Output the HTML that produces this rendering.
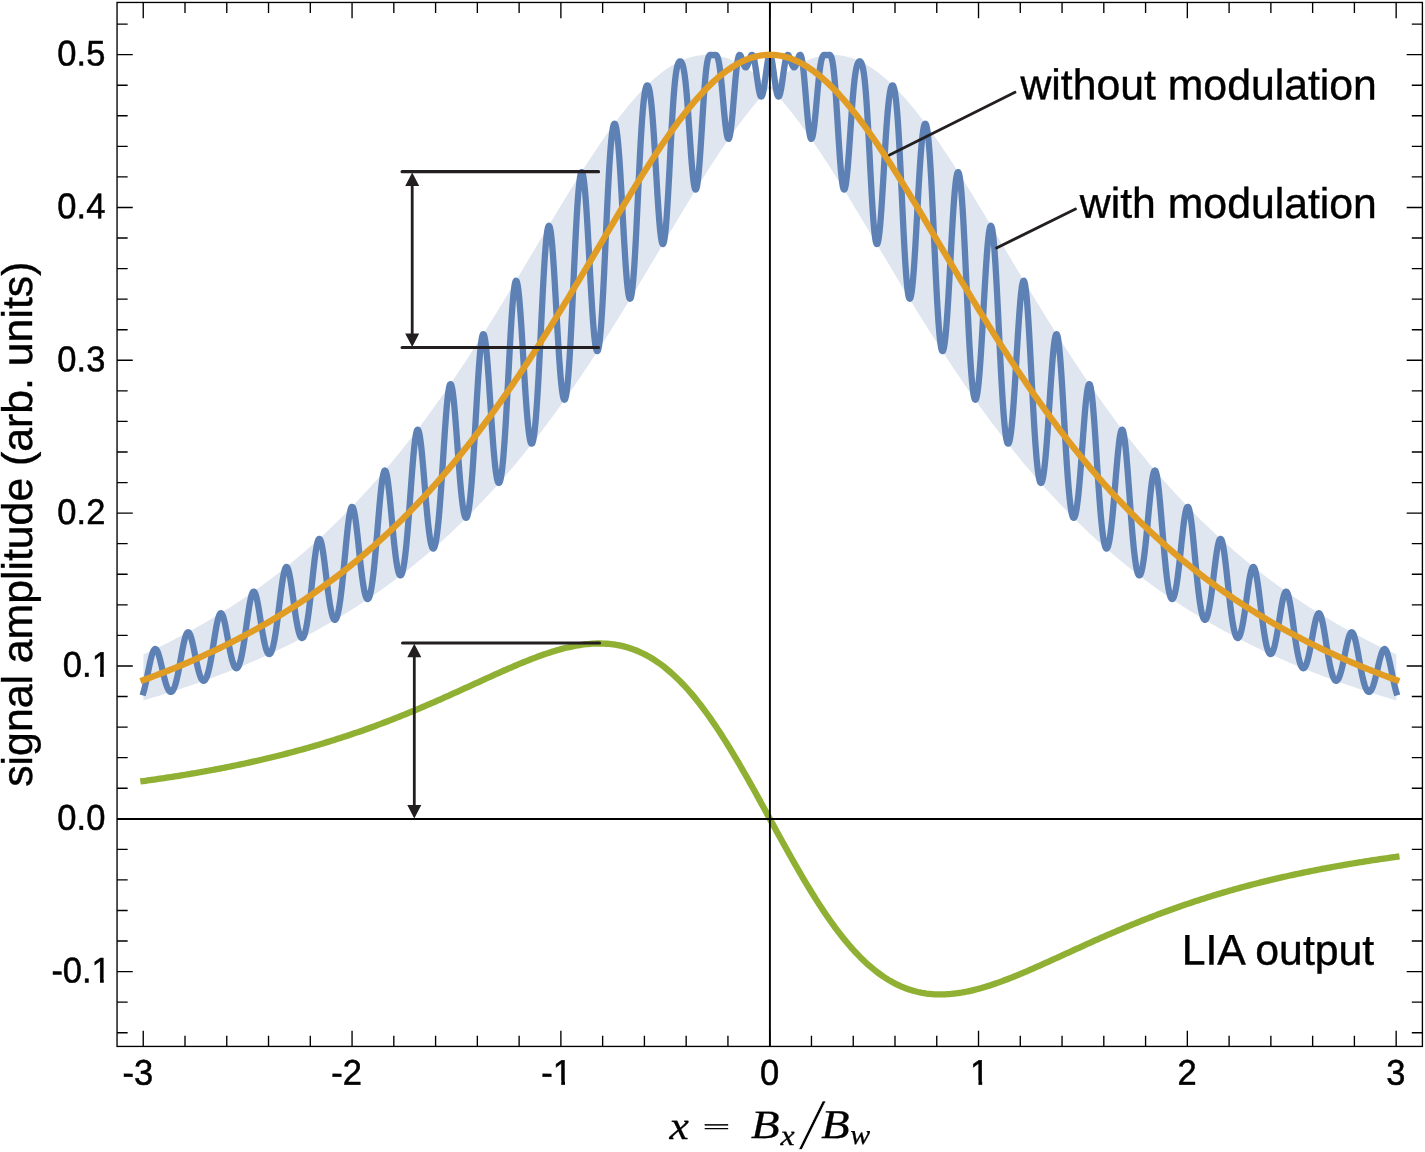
<!DOCTYPE html>
<html><head><meta charset="utf-8"><title>Lock-in amplifier signal</title>
<style>
html,body{margin:0;padding:0;background:#fff;}
svg{display:block;}
text{font-family:"Liberation Sans",sans-serif;fill:#000;text-rendering:geometricPrecision;}
.m{font-family:"Liberation Serif","DejaVu Serif",serif;font-style:italic;}
.r{font-family:"Liberation Serif","DejaVu Serif",serif;}
</style></head><body>
<svg width="1425" height="1152" viewBox="0 0 1425 1152">
<rect width="1425" height="1152" fill="#fff"/>
<path d="M143.44,654.44 L145.53,653.48 L147.62,652.51 L149.70,651.54 L151.79,650.55 L153.88,649.56 L155.97,648.56 L158.06,647.56 L160.15,646.54 L162.23,645.52 L164.32,644.49 L166.41,643.45 L168.50,642.40 L170.59,641.34 L172.67,640.28 L174.76,639.20 L176.85,638.12 L178.94,637.03 L181.03,635.93 L183.12,634.82 L185.20,633.70 L187.29,632.57 L189.38,631.44 L191.47,630.29 L193.56,629.14 L195.64,627.97 L197.73,626.80 L199.82,625.61 L201.91,624.42 L204.00,623.22 L206.09,622.00 L208.17,620.78 L210.26,619.55 L212.35,618.30 L214.44,617.05 L216.53,615.79 L218.62,614.51 L220.70,613.23 L222.79,611.93 L224.88,610.62 L226.97,609.31 L229.06,607.98 L231.14,606.64 L233.23,605.29 L235.32,603.93 L237.41,602.55 L239.50,601.17 L241.59,599.77 L243.67,598.37 L245.76,596.95 L247.85,595.51 L249.94,594.07 L252.03,592.62 L254.11,591.15 L256.20,589.67 L258.29,588.18 L260.38,586.67 L262.47,585.15 L264.56,583.62 L266.64,582.08 L268.73,580.53 L270.82,578.96 L272.91,577.38 L275.00,575.78 L277.08,574.17 L279.17,572.55 L281.26,570.91 L283.35,569.26 L285.44,567.60 L287.53,565.92 L289.61,564.23 L291.70,562.53 L293.79,560.81 L295.88,559.07 L297.97,557.33 L300.06,555.56 L302.14,553.79 L304.23,551.99 L306.32,550.19 L308.41,548.36 L310.50,546.53 L312.58,544.67 L314.67,542.80 L316.76,540.92 L318.85,539.02 L320.94,537.11 L323.03,535.17 L325.11,533.23 L327.20,531.26 L329.29,529.29 L331.38,527.29 L333.47,525.28 L335.55,523.25 L337.64,521.20 L339.73,519.14 L341.82,517.06 L343.91,514.97 L346.00,512.86 L348.08,510.73 L350.17,508.58 L352.26,506.41 L354.35,504.23 L356.44,502.03 L358.52,499.82 L360.61,497.58 L362.70,495.33 L364.79,493.06 L366.88,490.77 L368.97,488.46 L371.05,486.14 L373.14,483.80 L375.23,481.44 L377.32,479.06 L379.41,476.66 L381.49,474.24 L383.58,471.81 L385.67,469.35 L387.76,466.88 L389.85,464.39 L391.94,461.88 L394.02,459.35 L396.11,456.80 L398.20,454.24 L400.29,451.65 L402.38,449.04 L404.46,446.42 L406.55,443.78 L408.64,441.12 L410.73,438.44 L412.82,435.73 L414.91,433.02 L416.99,430.28 L419.08,427.52 L421.17,424.74 L423.26,421.95 L425.35,419.13 L427.44,416.30 L429.52,413.45 L431.61,410.58 L433.70,407.69 L435.79,404.78 L437.88,401.85 L439.96,398.90 L442.05,395.94 L444.14,392.95 L446.23,389.95 L448.32,386.93 L450.41,383.90 L452.49,380.84 L454.58,377.77 L456.67,374.68 L458.76,371.57 L460.85,368.44 L462.93,365.30 L465.02,362.14 L467.11,358.97 L469.20,355.77 L471.29,352.56 L473.38,349.34 L475.46,346.10 L477.55,342.84 L479.64,339.57 L481.73,336.29 L483.82,332.99 L485.90,329.67 L487.99,326.35 L490.08,323.01 L492.17,319.65 L494.26,316.29 L496.35,312.91 L498.43,309.52 L500.52,306.11 L502.61,302.70 L504.70,299.28 L506.79,295.85 L508.88,292.40 L510.96,288.95 L513.05,285.49 L515.14,282.03 L517.23,278.55 L519.32,275.07 L521.40,271.58 L523.49,268.09 L525.58,264.60 L527.67,261.09 L529.76,257.59 L531.85,254.08 L533.93,250.58 L536.02,247.07 L538.11,243.56 L540.20,240.05 L542.29,236.54 L544.37,233.04 L546.46,229.53 L548.55,226.03 L550.64,222.54 L552.73,219.05 L554.82,215.57 L556.90,212.10 L558.99,208.63 L561.08,205.17 L563.17,201.73 L565.26,198.30 L567.34,194.87 L569.43,191.47 L571.52,188.07 L573.61,184.70 L575.70,181.33 L577.79,177.99 L579.87,174.67 L581.96,171.37 L584.05,168.08 L586.14,164.82 L588.23,161.59 L590.31,158.38 L592.40,155.19 L594.49,152.04 L596.58,148.91 L598.67,145.81 L600.76,142.74 L602.84,139.71 L604.93,136.70 L607.02,133.74 L609.11,130.81 L611.20,127.91 L613.28,125.06 L615.37,122.24 L617.46,119.47 L619.55,116.74 L621.64,114.05 L623.73,111.40 L625.81,108.81 L627.90,106.26 L629.99,103.76 L632.08,101.30 L634.17,98.90 L636.26,96.55 L638.34,94.26 L640.43,92.02 L642.52,89.83 L644.61,87.71 L646.70,85.64 L648.78,83.62 L650.87,81.67 L652.96,79.78 L655.05,77.96 L657.14,76.19 L659.23,74.49 L661.31,72.86 L663.40,71.29 L665.49,69.78 L667.58,68.35 L669.67,66.98 L671.75,65.68 L673.84,64.46 L675.93,63.30 L678.02,62.22 L680.11,61.20 L682.20,60.26 L684.28,59.40 L686.37,58.60 L688.46,57.88 L690.55,57.24 L692.64,56.67 L694.72,56.17 L696.81,55.75 L698.90,55.41 L700.99,55.14 L703.08,54.95 L705.17,54.84 L707.25,54.80 L709.34,54.84 L711.43,54.95 L713.52,55.14 L715.61,55.41 L717.69,55.75 L719.78,56.17 L721.87,56.67 L723.96,57.24 L726.05,57.88 L728.14,58.60 L730.22,59.40 L732.31,60.26 L734.40,61.20 L736.49,62.22 L738.58,63.30 L740.67,64.46 L742.75,65.68 L744.84,66.98 L746.93,68.35 L749.02,69.78 L751.11,71.29 L753.19,72.86 L755.28,74.49 L757.37,76.19 L759.46,77.96 L761.55,79.78 L763.64,81.67 L765.72,83.62 L767.81,85.64 L769.90,87.71 L771.99,85.64 L774.08,83.62 L776.16,81.67 L778.25,79.78 L780.34,77.96 L782.43,76.19 L784.52,74.49 L786.61,72.86 L788.69,71.29 L790.78,69.78 L792.87,68.35 L794.96,66.98 L797.05,65.68 L799.13,64.46 L801.22,63.30 L803.31,62.22 L805.40,61.20 L807.49,60.26 L809.58,59.40 L811.66,58.60 L813.75,57.88 L815.84,57.24 L817.93,56.67 L820.02,56.17 L822.11,55.75 L824.19,55.41 L826.28,55.14 L828.37,54.95 L830.46,54.84 L832.55,54.80 L834.63,54.84 L836.72,54.95 L838.81,55.14 L840.90,55.41 L842.99,55.75 L845.08,56.17 L847.16,56.67 L849.25,57.24 L851.34,57.88 L853.43,58.60 L855.52,59.40 L857.60,60.26 L859.69,61.20 L861.78,62.22 L863.87,63.30 L865.96,64.46 L868.05,65.68 L870.13,66.98 L872.22,68.35 L874.31,69.78 L876.40,71.29 L878.49,72.86 L880.57,74.49 L882.66,76.19 L884.75,77.96 L886.84,79.78 L888.93,81.67 L891.02,83.62 L893.10,85.64 L895.19,87.71 L897.28,89.83 L899.37,92.02 L901.46,94.26 L903.54,96.55 L905.63,98.90 L907.72,101.30 L909.81,103.76 L911.90,106.26 L913.99,108.81 L916.07,111.40 L918.16,114.05 L920.25,116.74 L922.34,119.47 L924.43,122.24 L926.51,125.06 L928.60,127.91 L930.69,130.81 L932.78,133.74 L934.87,136.70 L936.96,139.71 L939.04,142.74 L941.13,145.81 L943.22,148.91 L945.31,152.04 L947.40,155.19 L949.49,158.38 L951.57,161.59 L953.66,164.82 L955.75,168.08 L957.84,171.37 L959.93,174.67 L962.01,177.99 L964.10,181.33 L966.19,184.70 L968.28,188.07 L970.37,191.47 L972.46,194.87 L974.54,198.30 L976.63,201.73 L978.72,205.17 L980.81,208.63 L982.90,212.10 L984.98,215.57 L987.07,219.05 L989.16,222.54 L991.25,226.03 L993.34,229.53 L995.43,233.04 L997.51,236.54 L999.60,240.05 L1001.69,243.56 L1003.78,247.07 L1005.87,250.58 L1007.95,254.08 L1010.04,257.59 L1012.13,261.09 L1014.22,264.60 L1016.31,268.09 L1018.40,271.58 L1020.48,275.07 L1022.57,278.55 L1024.66,282.03 L1026.75,285.49 L1028.84,288.95 L1030.92,292.40 L1033.01,295.85 L1035.10,299.28 L1037.19,302.70 L1039.28,306.11 L1041.37,309.52 L1043.45,312.91 L1045.54,316.29 L1047.63,319.65 L1049.72,323.01 L1051.81,326.35 L1053.90,329.67 L1055.98,332.99 L1058.07,336.29 L1060.16,339.57 L1062.25,342.84 L1064.34,346.10 L1066.42,349.34 L1068.51,352.56 L1070.60,355.77 L1072.69,358.97 L1074.78,362.14 L1076.87,365.30 L1078.95,368.44 L1081.04,371.57 L1083.13,374.68 L1085.22,377.77 L1087.31,380.84 L1089.39,383.90 L1091.48,386.93 L1093.57,389.95 L1095.66,392.95 L1097.75,395.94 L1099.84,398.90 L1101.92,401.85 L1104.01,404.78 L1106.10,407.69 L1108.19,410.58 L1110.28,413.45 L1112.36,416.30 L1114.45,419.13 L1116.54,421.95 L1118.63,424.74 L1120.72,427.52 L1122.81,430.28 L1124.89,433.02 L1126.98,435.73 L1129.07,438.44 L1131.16,441.12 L1133.25,443.78 L1135.34,446.42 L1137.42,449.04 L1139.51,451.65 L1141.60,454.24 L1143.69,456.80 L1145.78,459.35 L1147.86,461.88 L1149.95,464.39 L1152.04,466.88 L1154.13,469.35 L1156.22,471.81 L1158.31,474.24 L1160.39,476.66 L1162.48,479.06 L1164.57,481.44 L1166.66,483.80 L1168.75,486.14 L1170.83,488.46 L1172.92,490.77 L1175.01,493.06 L1177.10,495.33 L1179.19,497.58 L1181.28,499.82 L1183.36,502.03 L1185.45,504.23 L1187.54,506.41 L1189.63,508.58 L1191.72,510.73 L1193.80,512.86 L1195.89,514.97 L1197.98,517.06 L1200.07,519.14 L1202.16,521.20 L1204.25,523.25 L1206.33,525.28 L1208.42,527.29 L1210.51,529.29 L1212.60,531.26 L1214.69,533.23 L1216.77,535.17 L1218.86,537.11 L1220.95,539.02 L1223.04,540.92 L1225.13,542.80 L1227.22,544.67 L1229.30,546.53 L1231.39,548.36 L1233.48,550.19 L1235.57,551.99 L1237.66,553.79 L1239.74,555.56 L1241.83,557.33 L1243.92,559.07 L1246.01,560.81 L1248.10,562.53 L1250.19,564.23 L1252.27,565.92 L1254.36,567.60 L1256.45,569.26 L1258.54,570.91 L1260.63,572.55 L1262.72,574.17 L1264.80,575.78 L1266.89,577.38 L1268.98,578.96 L1271.07,580.53 L1273.16,582.08 L1275.24,583.62 L1277.33,585.15 L1279.42,586.67 L1281.51,588.18 L1283.60,589.67 L1285.69,591.15 L1287.77,592.62 L1289.86,594.07 L1291.95,595.51 L1294.04,596.95 L1296.13,598.37 L1298.21,599.77 L1300.30,601.17 L1302.39,602.55 L1304.48,603.93 L1306.57,605.29 L1308.66,606.64 L1310.74,607.98 L1312.83,609.31 L1314.92,610.62 L1317.01,611.93 L1319.10,613.23 L1321.18,614.51 L1323.27,615.79 L1325.36,617.05 L1327.45,618.30 L1329.54,619.55 L1331.63,620.78 L1333.71,622.00 L1335.80,623.22 L1337.89,624.42 L1339.98,625.61 L1342.07,626.80 L1344.15,627.97 L1346.24,629.14 L1348.33,630.29 L1350.42,631.44 L1352.51,632.57 L1354.60,633.70 L1356.68,634.82 L1358.77,635.93 L1360.86,637.03 L1362.95,638.12 L1365.04,639.20 L1367.13,640.28 L1369.21,641.34 L1371.30,642.40 L1373.39,643.45 L1375.48,644.49 L1377.57,645.52 L1379.65,646.54 L1381.74,647.56 L1383.83,648.56 L1385.92,649.56 L1388.01,650.55 L1390.10,651.54 L1392.18,652.51 L1394.27,653.48 L1396.36,654.44 L1396.36,700.39 L1394.27,699.78 L1392.18,699.16 L1390.10,698.54 L1388.01,697.92 L1385.92,697.29 L1383.83,696.66 L1381.74,696.03 L1379.65,695.39 L1377.57,694.74 L1375.48,694.09 L1373.39,693.43 L1371.30,692.77 L1369.21,692.11 L1367.13,691.44 L1365.04,690.76 L1362.95,690.08 L1360.86,689.40 L1358.77,688.71 L1356.68,688.01 L1354.60,687.31 L1352.51,686.61 L1350.42,685.90 L1348.33,685.18 L1346.24,684.46 L1344.15,683.73 L1342.07,683.00 L1339.98,682.26 L1337.89,681.52 L1335.80,680.77 L1333.71,680.01 L1331.63,679.25 L1329.54,678.49 L1327.45,677.71 L1325.36,676.94 L1323.27,676.15 L1321.18,675.36 L1319.10,674.57 L1317.01,673.76 L1314.92,672.95 L1312.83,672.14 L1310.74,671.32 L1308.66,670.49 L1306.57,669.66 L1304.48,668.82 L1302.39,667.97 L1300.30,667.12 L1298.21,666.26 L1296.13,665.39 L1294.04,664.52 L1291.95,663.63 L1289.86,662.75 L1287.77,661.85 L1285.69,660.95 L1283.60,660.04 L1281.51,659.13 L1279.42,658.20 L1277.33,657.27 L1275.24,656.34 L1273.16,655.39 L1271.07,654.44 L1268.98,653.48 L1266.89,652.51 L1264.80,651.54 L1262.72,650.55 L1260.63,649.56 L1258.54,648.56 L1256.45,647.56 L1254.36,646.54 L1252.27,645.52 L1250.19,644.49 L1248.10,643.45 L1246.01,642.40 L1243.92,641.34 L1241.83,640.28 L1239.74,639.20 L1237.66,638.12 L1235.57,637.03 L1233.48,635.93 L1231.39,634.82 L1229.30,633.70 L1227.22,632.57 L1225.13,631.44 L1223.04,630.29 L1220.95,629.14 L1218.86,627.97 L1216.77,626.80 L1214.69,625.61 L1212.60,624.42 L1210.51,623.22 L1208.42,622.00 L1206.33,620.78 L1204.25,619.55 L1202.16,618.30 L1200.07,617.05 L1197.98,615.79 L1195.89,614.51 L1193.80,613.23 L1191.72,611.93 L1189.63,610.62 L1187.54,609.31 L1185.45,607.98 L1183.36,606.64 L1181.28,605.29 L1179.19,603.93 L1177.10,602.55 L1175.01,601.17 L1172.92,599.77 L1170.83,598.37 L1168.75,596.95 L1166.66,595.51 L1164.57,594.07 L1162.48,592.62 L1160.39,591.15 L1158.31,589.67 L1156.22,588.18 L1154.13,586.67 L1152.04,585.15 L1149.95,583.62 L1147.86,582.08 L1145.78,580.53 L1143.69,578.96 L1141.60,577.38 L1139.51,575.78 L1137.42,574.17 L1135.34,572.55 L1133.25,570.91 L1131.16,569.26 L1129.07,567.60 L1126.98,565.92 L1124.89,564.23 L1122.81,562.53 L1120.72,560.81 L1118.63,559.07 L1116.54,557.33 L1114.45,555.56 L1112.36,553.79 L1110.28,551.99 L1108.19,550.19 L1106.10,548.36 L1104.01,546.53 L1101.92,544.67 L1099.84,542.80 L1097.75,540.92 L1095.66,539.02 L1093.57,537.11 L1091.48,535.17 L1089.39,533.23 L1087.31,531.26 L1085.22,529.29 L1083.13,527.29 L1081.04,525.28 L1078.95,523.25 L1076.87,521.20 L1074.78,519.14 L1072.69,517.06 L1070.60,514.97 L1068.51,512.86 L1066.42,510.73 L1064.34,508.58 L1062.25,506.41 L1060.16,504.23 L1058.07,502.03 L1055.98,499.82 L1053.90,497.58 L1051.81,495.33 L1049.72,493.06 L1047.63,490.77 L1045.54,488.46 L1043.45,486.14 L1041.37,483.80 L1039.28,481.44 L1037.19,479.06 L1035.10,476.66 L1033.01,474.24 L1030.92,471.81 L1028.84,469.35 L1026.75,466.88 L1024.66,464.39 L1022.57,461.88 L1020.48,459.35 L1018.40,456.80 L1016.31,454.24 L1014.22,451.65 L1012.13,449.04 L1010.04,446.42 L1007.95,443.78 L1005.87,441.12 L1003.78,438.44 L1001.69,435.73 L999.60,433.02 L997.51,430.28 L995.43,427.52 L993.34,424.74 L991.25,421.95 L989.16,419.13 L987.07,416.30 L984.98,413.45 L982.90,410.58 L980.81,407.69 L978.72,404.78 L976.63,401.85 L974.54,398.90 L972.46,395.94 L970.37,392.95 L968.28,389.95 L966.19,386.93 L964.10,383.90 L962.01,380.84 L959.93,377.77 L957.84,374.68 L955.75,371.57 L953.66,368.44 L951.57,365.30 L949.49,362.14 L947.40,358.97 L945.31,355.77 L943.22,352.56 L941.13,349.34 L939.04,346.10 L936.96,342.84 L934.87,339.57 L932.78,336.29 L930.69,332.99 L928.60,329.67 L926.51,326.35 L924.43,323.01 L922.34,319.65 L920.25,316.29 L918.16,312.91 L916.07,309.52 L913.99,306.11 L911.90,302.70 L909.81,299.28 L907.72,295.85 L905.63,292.40 L903.54,288.95 L901.46,285.49 L899.37,282.03 L897.28,278.55 L895.19,275.07 L893.10,271.58 L891.02,268.09 L888.93,264.60 L886.84,261.09 L884.75,257.59 L882.66,254.08 L880.57,250.58 L878.49,247.07 L876.40,243.56 L874.31,240.05 L872.22,236.54 L870.13,233.04 L868.05,229.53 L865.96,226.03 L863.87,222.54 L861.78,219.05 L859.69,215.57 L857.60,212.10 L855.52,208.63 L853.43,205.17 L851.34,201.73 L849.25,198.30 L847.16,194.87 L845.08,191.47 L842.99,188.07 L840.90,184.70 L838.81,181.33 L836.72,177.99 L834.63,174.67 L832.55,171.37 L830.46,168.08 L828.37,164.82 L826.28,161.59 L824.19,158.38 L822.11,155.19 L820.02,152.04 L817.93,148.91 L815.84,145.81 L813.75,142.74 L811.66,139.71 L809.58,136.70 L807.49,133.74 L805.40,130.81 L803.31,127.91 L801.22,125.06 L799.13,122.24 L797.05,119.47 L794.96,116.74 L792.87,114.05 L790.78,111.40 L788.69,108.81 L786.61,106.26 L784.52,103.76 L782.43,101.30 L780.34,98.90 L778.25,96.55 L776.16,94.26 L774.08,92.02 L771.99,89.83 L769.90,87.71 L767.81,89.83 L765.72,92.02 L763.64,94.26 L761.55,96.55 L759.46,98.90 L757.37,101.30 L755.28,103.76 L753.19,106.26 L751.11,108.81 L749.02,111.40 L746.93,114.05 L744.84,116.74 L742.75,119.47 L740.67,122.24 L738.58,125.06 L736.49,127.91 L734.40,130.81 L732.31,133.74 L730.22,136.70 L728.14,139.71 L726.05,142.74 L723.96,145.81 L721.87,148.91 L719.78,152.04 L717.69,155.19 L715.61,158.38 L713.52,161.59 L711.43,164.82 L709.34,168.08 L707.25,171.37 L705.17,174.67 L703.08,177.99 L700.99,181.33 L698.90,184.70 L696.81,188.07 L694.72,191.47 L692.64,194.87 L690.55,198.30 L688.46,201.73 L686.37,205.17 L684.28,208.63 L682.20,212.10 L680.11,215.57 L678.02,219.05 L675.93,222.54 L673.84,226.03 L671.75,229.53 L669.67,233.04 L667.58,236.54 L665.49,240.05 L663.40,243.56 L661.31,247.07 L659.23,250.58 L657.14,254.08 L655.05,257.59 L652.96,261.09 L650.87,264.60 L648.78,268.09 L646.70,271.58 L644.61,275.07 L642.52,278.55 L640.43,282.03 L638.34,285.49 L636.26,288.95 L634.17,292.40 L632.08,295.85 L629.99,299.28 L627.90,302.70 L625.81,306.11 L623.73,309.52 L621.64,312.91 L619.55,316.29 L617.46,319.65 L615.37,323.01 L613.28,326.35 L611.20,329.67 L609.11,332.99 L607.02,336.29 L604.93,339.57 L602.84,342.84 L600.76,346.10 L598.67,349.34 L596.58,352.56 L594.49,355.77 L592.40,358.97 L590.31,362.14 L588.23,365.30 L586.14,368.44 L584.05,371.57 L581.96,374.68 L579.87,377.77 L577.79,380.84 L575.70,383.90 L573.61,386.93 L571.52,389.95 L569.43,392.95 L567.34,395.94 L565.26,398.90 L563.17,401.85 L561.08,404.78 L558.99,407.69 L556.90,410.58 L554.82,413.45 L552.73,416.30 L550.64,419.13 L548.55,421.95 L546.46,424.74 L544.37,427.52 L542.29,430.28 L540.20,433.02 L538.11,435.73 L536.02,438.44 L533.93,441.12 L531.85,443.78 L529.76,446.42 L527.67,449.04 L525.58,451.65 L523.49,454.24 L521.40,456.80 L519.32,459.35 L517.23,461.88 L515.14,464.39 L513.05,466.88 L510.96,469.35 L508.88,471.81 L506.79,474.24 L504.70,476.66 L502.61,479.06 L500.52,481.44 L498.43,483.80 L496.35,486.14 L494.26,488.46 L492.17,490.77 L490.08,493.06 L487.99,495.33 L485.90,497.58 L483.82,499.82 L481.73,502.03 L479.64,504.23 L477.55,506.41 L475.46,508.58 L473.38,510.73 L471.29,512.86 L469.20,514.97 L467.11,517.06 L465.02,519.14 L462.93,521.20 L460.85,523.25 L458.76,525.28 L456.67,527.29 L454.58,529.29 L452.49,531.26 L450.41,533.23 L448.32,535.17 L446.23,537.11 L444.14,539.02 L442.05,540.92 L439.96,542.80 L437.88,544.67 L435.79,546.53 L433.70,548.36 L431.61,550.19 L429.52,551.99 L427.44,553.79 L425.35,555.56 L423.26,557.33 L421.17,559.07 L419.08,560.81 L416.99,562.53 L414.91,564.23 L412.82,565.92 L410.73,567.60 L408.64,569.26 L406.55,570.91 L404.46,572.55 L402.38,574.17 L400.29,575.78 L398.20,577.38 L396.11,578.96 L394.02,580.53 L391.94,582.08 L389.85,583.62 L387.76,585.15 L385.67,586.67 L383.58,588.18 L381.49,589.67 L379.41,591.15 L377.32,592.62 L375.23,594.07 L373.14,595.51 L371.05,596.95 L368.97,598.37 L366.88,599.77 L364.79,601.17 L362.70,602.55 L360.61,603.93 L358.52,605.29 L356.44,606.64 L354.35,607.98 L352.26,609.31 L350.17,610.62 L348.08,611.93 L346.00,613.23 L343.91,614.51 L341.82,615.79 L339.73,617.05 L337.64,618.30 L335.55,619.55 L333.47,620.78 L331.38,622.00 L329.29,623.22 L327.20,624.42 L325.11,625.61 L323.03,626.80 L320.94,627.97 L318.85,629.14 L316.76,630.29 L314.67,631.44 L312.58,632.57 L310.50,633.70 L308.41,634.82 L306.32,635.93 L304.23,637.03 L302.14,638.12 L300.06,639.20 L297.97,640.28 L295.88,641.34 L293.79,642.40 L291.70,643.45 L289.61,644.49 L287.53,645.52 L285.44,646.54 L283.35,647.56 L281.26,648.56 L279.17,649.56 L277.08,650.55 L275.00,651.54 L272.91,652.51 L270.82,653.48 L268.73,654.44 L266.64,655.39 L264.56,656.34 L262.47,657.27 L260.38,658.20 L258.29,659.13 L256.20,660.04 L254.11,660.95 L252.03,661.85 L249.94,662.75 L247.85,663.63 L245.76,664.52 L243.67,665.39 L241.59,666.26 L239.50,667.12 L237.41,667.97 L235.32,668.82 L233.23,669.66 L231.14,670.49 L229.06,671.32 L226.97,672.14 L224.88,672.95 L222.79,673.76 L220.70,674.57 L218.62,675.36 L216.53,676.15 L214.44,676.94 L212.35,677.71 L210.26,678.49 L208.17,679.25 L206.09,680.01 L204.00,680.77 L201.91,681.52 L199.82,682.26 L197.73,683.00 L195.64,683.73 L193.56,684.46 L191.47,685.18 L189.38,685.90 L187.29,686.61 L185.20,687.31 L183.12,688.01 L181.03,688.71 L178.94,689.40 L176.85,690.08 L174.76,690.76 L172.67,691.44 L170.59,692.11 L168.50,692.77 L166.41,693.43 L164.32,694.09 L162.23,694.74 L160.15,695.39 L158.06,696.03 L155.97,696.66 L153.88,697.29 L151.79,697.92 L149.70,698.54 L147.62,699.16 L145.53,699.78 L143.44,700.39Z" fill="#DFE6F0"/>
<path d="M143.44,692.39 L143.86,690.91 L144.28,689.33 L144.69,687.67 L145.11,685.93 L145.53,684.12 L145.95,682.24 L146.36,680.30 L146.78,678.32 L147.20,676.30 L147.62,674.26 L148.03,672.20 L148.45,670.14 L148.87,668.10 L149.29,666.09 L149.70,664.12 L150.12,662.21 L150.54,660.37 L150.96,658.63 L151.38,656.99 L151.79,655.46 L152.21,654.08 L152.63,652.84 L153.05,651.75 L153.46,650.84 L153.88,650.10 L154.30,649.54 L154.72,649.18 L155.13,649.00 L155.55,649.02 L155.97,649.22 L156.39,649.61 L156.80,650.18 L157.22,650.93 L157.64,651.84 L158.06,652.91 L158.48,654.11 L158.89,655.45 L159.31,656.90 L159.73,658.44 L160.15,660.08 L160.56,661.78 L160.98,663.54 L161.40,665.33 L161.82,667.15 L162.23,668.98 L162.65,670.80 L163.07,672.60 L163.49,674.38 L163.90,676.11 L164.32,677.79 L164.74,679.41 L165.16,680.96 L165.57,682.43 L165.99,683.81 L166.41,685.10 L166.83,686.29 L167.25,687.38 L167.66,688.36 L168.08,689.23 L168.50,689.99 L168.92,690.62 L169.33,691.14 L169.75,691.53 L170.17,691.79 L170.59,691.93 L171.00,691.95 L171.42,691.83 L171.84,691.59 L172.26,691.22 L172.67,690.72 L173.09,690.08 L173.51,689.32 L173.93,688.44 L174.35,687.43 L174.76,686.29 L175.18,685.03 L175.60,683.65 L176.02,682.16 L176.43,680.55 L176.85,678.83 L177.27,677.02 L177.69,675.11 L178.10,673.11 L178.52,671.03 L178.94,668.88 L179.36,666.67 L179.77,664.41 L180.19,662.12 L180.61,659.80 L181.03,657.47 L181.45,655.15 L181.86,652.85 L182.28,650.60 L182.70,648.40 L183.12,646.27 L183.53,644.24 L183.95,642.31 L184.37,640.51 L184.79,638.86 L185.20,637.36 L185.62,636.03 L186.04,634.89 L186.46,633.94 L186.87,633.20 L187.29,632.67 L187.71,632.35 L188.13,632.25 L188.55,632.36 L188.96,632.70 L189.38,633.24 L189.80,633.98 L190.22,634.91 L190.63,636.03 L191.05,637.31 L191.47,638.74 L191.89,640.32 L192.30,642.02 L192.72,643.82 L193.14,645.71 L193.56,647.66 L193.97,649.67 L194.39,651.72 L194.81,653.78 L195.23,655.85 L195.64,657.90 L196.06,659.93 L196.48,661.91 L196.90,663.84 L197.32,665.71 L197.73,667.50 L198.15,669.21 L198.57,670.82 L198.99,672.33 L199.40,673.73 L199.82,675.02 L200.24,676.19 L200.66,677.24 L201.07,678.16 L201.49,678.95 L201.91,679.60 L202.33,680.11 L202.74,680.49 L203.16,680.72 L203.58,680.82 L204.00,680.77 L204.42,680.57 L204.83,680.23 L205.25,679.74 L205.67,679.11 L206.09,678.34 L206.50,677.42 L206.92,676.35 L207.34,675.15 L207.76,673.80 L208.17,672.32 L208.59,670.71 L209.01,668.96 L209.43,667.09 L209.84,665.11 L210.26,663.01 L210.68,660.80 L211.10,658.50 L211.52,656.11 L211.93,653.65 L212.35,651.12 L212.77,648.54 L213.19,645.93 L213.60,643.30 L214.02,640.66 L214.44,638.04 L214.86,635.45 L215.27,632.92 L215.69,630.46 L216.11,628.09 L216.53,625.83 L216.94,623.71 L217.36,621.74 L217.78,619.94 L218.20,618.32 L218.62,616.91 L219.03,615.71 L219.45,614.74 L219.87,614.00 L220.29,613.51 L220.70,613.26 L221.12,613.26 L221.54,613.51 L221.96,613.99 L222.37,614.71 L222.79,615.66 L223.21,616.82 L223.63,618.18 L224.04,619.72 L224.46,621.42 L224.88,623.28 L225.30,625.26 L225.72,627.36 L226.13,629.54 L226.55,631.79 L226.97,634.10 L227.39,636.43 L227.80,638.77 L228.22,641.11 L228.64,643.42 L229.06,645.70 L229.47,647.92 L229.89,650.07 L230.31,652.15 L230.73,654.13 L231.14,656.01 L231.56,657.78 L231.98,659.44 L232.40,660.96 L232.81,662.36 L233.23,663.62 L233.65,664.73 L234.07,665.70 L234.49,666.52 L234.90,667.18 L235.32,667.69 L235.74,668.04 L236.16,668.24 L236.57,668.27 L236.99,668.13 L237.41,667.84 L237.83,667.38 L238.24,666.75 L238.66,665.97 L239.08,665.02 L239.50,663.90 L239.91,662.63 L240.33,661.19 L240.75,659.60 L241.17,657.86 L241.59,655.97 L242.00,653.93 L242.42,651.75 L242.84,649.44 L243.26,647.01 L243.67,644.46 L244.09,641.81 L244.51,639.06 L244.93,636.23 L245.34,633.33 L245.76,630.39 L246.18,627.41 L246.60,624.41 L247.01,621.42 L247.43,618.46 L247.85,615.54 L248.27,612.70 L248.69,609.94 L249.10,607.30 L249.52,604.80 L249.94,602.46 L250.36,600.30 L250.77,598.35 L251.19,596.61 L251.61,595.11 L252.03,593.87 L252.44,592.88 L252.86,592.17 L253.28,591.74 L253.70,591.58 L254.11,591.71 L254.53,592.12 L254.95,592.80 L255.37,593.74 L255.79,594.93 L256.20,596.35 L256.62,598.00 L257.04,599.84 L257.46,601.87 L257.87,604.05 L258.29,606.37 L258.71,608.80 L259.13,611.32 L259.54,613.91 L259.96,616.55 L260.38,619.21 L260.80,621.87 L261.21,624.52 L261.63,627.13 L262.05,629.69 L262.47,632.17 L262.89,634.58 L263.30,636.89 L263.72,639.08 L264.14,641.16 L264.56,643.11 L264.97,644.92 L265.39,646.58 L265.81,648.09 L266.23,649.44 L266.64,650.62 L267.06,651.64 L267.48,652.49 L267.90,653.16 L268.31,653.65 L268.73,653.97 L269.15,654.10 L269.57,654.05 L269.98,653.82 L270.40,653.40 L270.82,652.79 L271.24,652.00 L271.66,651.02 L272.07,649.86 L272.49,648.52 L272.91,646.99 L273.33,645.28 L273.74,643.40 L274.16,641.35 L274.58,639.13 L275.00,636.74 L275.41,634.20 L275.83,631.51 L276.25,628.69 L276.67,625.74 L277.08,622.67 L277.50,619.50 L277.92,616.25 L278.34,612.93 L278.76,609.56 L279.17,606.16 L279.59,602.75 L280.01,599.36 L280.43,596.00 L280.84,592.71 L281.26,589.52 L281.68,586.43 L282.10,583.50 L282.51,580.73 L282.93,578.15 L283.35,575.80 L283.77,573.68 L284.18,571.82 L284.60,570.24 L285.02,568.96 L285.44,567.98 L285.86,567.31 L286.27,566.97 L286.69,566.94 L287.11,567.23 L287.53,567.84 L287.94,568.75 L288.36,569.96 L288.78,571.44 L289.20,573.18 L289.61,575.16 L290.03,577.36 L290.45,579.76 L290.87,582.32 L291.28,585.02 L291.70,587.85 L292.12,590.76 L292.54,593.74 L292.96,596.76 L293.37,599.79 L293.79,602.81 L294.21,605.81 L294.63,608.76 L295.04,611.63 L295.46,614.42 L295.88,617.10 L296.30,619.67 L296.71,622.11 L297.13,624.40 L297.55,626.54 L297.97,628.52 L298.38,630.33 L298.80,631.96 L299.22,633.40 L299.64,634.66 L300.06,635.73 L300.47,636.60 L300.89,637.27 L301.31,637.74 L301.73,638.00 L302.14,638.05 L302.56,637.90 L302.98,637.54 L303.40,636.96 L303.81,636.18 L304.23,635.18 L304.65,633.98 L305.07,632.57 L305.48,630.95 L305.90,629.12 L306.32,627.09 L306.74,624.86 L307.15,622.44 L307.57,619.83 L307.99,617.03 L308.41,614.07 L308.83,610.94 L309.24,607.66 L309.66,604.23 L310.08,600.69 L310.50,597.03 L310.91,593.29 L311.33,589.48 L311.75,585.62 L312.17,581.74 L312.58,577.86 L313.00,574.01 L313.42,570.21 L313.84,566.51 L314.25,562.92 L314.67,559.48 L315.09,556.22 L315.51,553.16 L315.93,550.33 L316.34,547.77 L316.76,545.49 L317.18,543.52 L317.60,541.87 L318.01,540.57 L318.43,539.61 L318.85,539.02 L319.27,538.80 L319.68,538.93 L320.10,539.43 L320.52,540.29 L320.94,541.48 L321.35,543.00 L321.77,544.83 L322.19,546.94 L322.61,549.32 L323.03,551.93 L323.44,554.75 L323.86,557.75 L324.28,560.90 L324.70,564.17 L325.11,567.53 L325.53,570.95 L325.95,574.40 L326.37,577.86 L326.78,581.29 L327.20,584.68 L327.62,588.00 L328.04,591.24 L328.45,594.36 L328.87,597.36 L329.29,600.21 L329.71,602.91 L330.13,605.45 L330.54,607.80 L330.96,609.96 L331.38,611.93 L331.80,613.68 L332.21,615.23 L332.63,616.56 L333.05,617.67 L333.47,618.56 L333.88,619.21 L334.30,619.64 L334.72,619.83 L335.14,619.78 L335.55,619.50 L335.97,618.97 L336.39,618.21 L336.81,617.21 L337.22,615.97 L337.64,614.49 L338.06,612.78 L338.48,610.82 L338.90,608.64 L339.31,606.22 L339.73,603.58 L340.15,600.73 L340.57,597.66 L340.98,594.38 L341.40,590.92 L341.82,587.27 L342.24,583.46 L342.65,579.49 L343.07,575.39 L343.49,571.17 L343.91,566.87 L344.32,562.49 L344.74,558.08 L345.16,553.65 L345.58,549.24 L346.00,544.88 L346.41,540.60 L346.83,536.43 L347.25,532.42 L347.67,528.59 L348.08,524.98 L348.50,521.61 L348.92,518.53 L349.34,515.76 L349.75,513.33 L350.17,511.25 L350.59,509.56 L351.01,508.26 L351.42,507.36 L351.84,506.88 L352.26,506.81 L352.68,507.16 L353.10,507.91 L353.51,509.06 L353.93,510.59 L354.35,512.49 L354.77,514.72 L355.18,517.27 L355.60,520.10 L356.02,523.18 L356.44,526.49 L356.85,529.99 L357.27,533.64 L357.69,537.42 L358.11,541.28 L358.52,545.20 L358.94,549.14 L359.36,553.07 L359.78,556.97 L360.20,560.80 L360.61,564.54 L361.03,568.17 L361.45,571.67 L361.87,575.01 L362.28,578.19 L362.70,581.18 L363.12,583.97 L363.54,586.55 L363.95,588.92 L364.37,591.05 L364.79,592.94 L365.21,594.59 L365.62,595.99 L366.04,597.14 L366.46,598.03 L366.88,598.65 L367.30,599.01 L367.71,599.10 L368.13,598.93 L368.55,598.48 L368.97,597.76 L369.38,596.77 L369.80,595.50 L370.22,593.96 L370.64,592.15 L371.05,590.07 L371.47,587.73 L371.89,585.12 L372.31,582.25 L372.72,579.12 L373.14,575.75 L373.56,572.15 L373.98,568.31 L374.39,564.26 L374.81,560.02 L375.23,555.59 L375.65,550.99 L376.07,546.25 L376.48,541.40 L376.90,536.45 L377.32,531.45 L377.74,526.41 L378.15,521.37 L378.57,516.37 L378.99,511.45 L379.41,506.64 L379.82,501.98 L380.24,497.52 L380.66,493.28 L381.08,489.31 L381.49,485.64 L381.91,482.30 L382.33,479.34 L382.75,476.76 L383.17,474.61 L383.58,472.89 L384.00,471.63 L384.42,470.83 L384.84,470.50 L385.25,470.64 L385.67,471.25 L386.09,472.31 L386.51,473.81 L386.92,475.74 L387.34,478.06 L387.76,480.76 L388.18,483.79 L388.59,487.14 L389.01,490.76 L389.43,494.62 L389.85,498.68 L390.27,502.90 L390.68,507.24 L391.10,511.66 L391.52,516.13 L391.94,520.62 L392.35,525.08 L392.77,529.48 L393.19,533.80 L393.61,538.01 L394.02,542.08 L394.44,545.99 L394.86,549.71 L395.28,553.24 L395.69,556.55 L396.11,559.62 L396.53,562.45 L396.95,565.02 L397.37,567.33 L397.78,569.36 L398.20,571.11 L398.62,572.58 L399.04,573.75 L399.45,574.62 L399.87,575.20 L400.29,575.47 L400.71,575.43 L401.12,575.09 L401.54,574.43 L401.96,573.47 L402.38,572.20 L402.79,570.61 L403.21,568.71 L403.63,566.51 L404.05,564.00 L404.46,561.18 L404.88,558.07 L405.30,554.66 L405.72,550.97 L406.14,547.01 L406.55,542.78 L406.97,538.29 L407.39,533.58 L407.81,528.64 L408.22,523.51 L408.64,518.20 L409.06,512.75 L409.48,507.18 L409.89,501.52 L410.31,495.81 L410.73,490.09 L411.15,484.39 L411.56,478.77 L411.98,473.25 L412.40,467.88 L412.82,462.71 L413.24,457.78 L413.65,453.13 L414.07,448.81 L414.49,444.85 L414.91,441.28 L415.32,438.15 L415.74,435.47 L416.16,433.28 L416.58,431.58 L416.99,430.41 L417.41,429.75 L417.83,429.63 L418.25,430.02 L418.66,430.94 L419.08,432.36 L419.50,434.27 L419.92,436.64 L420.34,439.45 L420.75,442.66 L421.17,446.24 L421.59,450.16 L422.01,454.37 L422.42,458.83 L422.84,463.50 L423.26,468.34 L423.68,473.29 L424.09,478.33 L424.51,483.41 L424.93,488.49 L425.35,493.52 L425.76,498.48 L426.18,503.34 L426.60,508.05 L427.02,512.60 L427.44,516.95 L427.85,521.08 L428.27,524.98 L428.69,528.63 L429.11,532.00 L429.52,535.09 L429.94,537.89 L430.36,540.37 L430.78,542.54 L431.19,544.39 L431.61,545.90 L432.03,547.08 L432.45,547.92 L432.86,548.42 L433.28,548.57 L433.70,548.36 L434.12,547.81 L434.54,546.90 L434.95,545.64 L435.37,544.02 L435.79,542.05 L436.21,539.73 L436.62,537.06 L437.04,534.04 L437.46,530.68 L437.88,526.98 L438.29,522.95 L438.71,518.60 L439.13,513.95 L439.55,509.01 L439.96,503.79 L440.38,498.31 L440.80,492.60 L441.22,486.68 L441.63,480.59 L442.05,474.35 L442.47,468.00 L442.89,461.58 L443.31,455.12 L443.72,448.68 L444.14,442.30 L444.56,436.02 L444.98,429.90 L445.39,423.98 L445.81,418.31 L446.23,412.94 L446.65,407.92 L447.06,403.28 L447.48,399.07 L447.90,395.33 L448.32,392.08 L448.73,389.35 L449.15,387.17 L449.57,385.56 L449.99,384.52 L450.41,384.07 L450.82,384.19 L451.24,384.90 L451.66,386.17 L452.08,388.00 L452.49,390.35 L452.91,393.21 L453.33,396.54 L453.75,400.30 L454.16,404.47 L454.58,408.99 L455.00,413.82 L455.42,418.92 L455.83,424.24 L456.25,429.73 L456.67,435.34 L457.09,441.03 L457.51,446.75 L457.92,452.45 L458.34,458.10 L458.76,463.65 L459.18,469.06 L459.59,474.31 L460.01,479.36 L460.43,484.19 L460.85,488.75 L461.26,493.05 L461.68,497.05 L462.10,500.73 L462.52,504.09 L462.93,507.10 L463.35,509.76 L463.77,512.06 L464.19,513.99 L464.61,515.54 L465.02,516.70 L465.44,517.48 L465.86,517.86 L466.28,517.85 L466.69,517.43 L467.11,516.62 L467.53,515.40 L467.95,513.78 L468.36,511.76 L468.78,509.33 L469.20,506.51 L469.62,503.29 L470.03,499.68 L470.45,495.68 L470.87,491.31 L471.29,486.58 L471.71,481.49 L472.12,476.07 L472.54,470.32 L472.96,464.29 L473.38,457.98 L473.79,451.43 L474.21,444.67 L474.63,437.73 L475.05,430.67 L475.46,423.51 L475.88,416.30 L476.30,409.09 L476.72,401.94 L477.13,394.89 L477.55,388.00 L477.97,381.32 L478.39,374.91 L478.80,368.81 L479.22,363.08 L479.64,357.76 L480.06,352.89 L480.48,348.52 L480.89,344.68 L481.31,341.40 L481.73,338.71 L482.15,336.63 L482.56,335.16 L482.98,334.33 L483.40,334.12 L483.82,334.55 L484.23,335.60 L484.65,337.26 L485.07,339.51 L485.49,342.33 L485.90,345.68 L486.32,349.54 L486.74,353.86 L487.16,358.60 L487.58,363.73 L487.99,369.18 L488.41,374.92 L488.83,380.88 L489.25,387.03 L489.66,393.29 L490.08,399.64 L490.50,406.00 L490.92,412.34 L491.33,418.60 L491.75,424.75 L492.17,430.74 L492.59,436.53 L493.00,442.09 L493.42,447.39 L493.84,452.40 L494.26,457.09 L494.68,461.45 L495.09,465.44 L495.51,469.06 L495.93,472.29 L496.35,475.11 L496.76,477.52 L497.18,479.51 L497.60,481.06 L498.02,482.18 L498.43,482.85 L498.85,483.08 L499.27,482.85 L499.69,482.18 L500.10,481.04 L500.52,479.45 L500.94,477.41 L501.36,474.91 L501.78,471.96 L502.19,468.56 L502.61,464.71 L503.03,460.43 L503.45,455.73 L503.86,450.61 L504.28,445.09 L504.70,439.20 L505.12,432.94 L505.53,426.34 L505.95,419.44 L506.37,412.26 L506.79,404.84 L507.20,397.23 L507.62,389.46 L508.04,381.58 L508.46,373.64 L508.88,365.71 L509.29,357.82 L509.71,350.04 L510.13,342.43 L510.55,335.04 L510.96,327.94 L511.38,321.16 L511.80,314.78 L512.22,308.83 L512.63,303.36 L513.05,298.42 L513.47,294.03 L513.89,290.23 L514.30,287.05 L514.72,284.50 L515.14,282.60 L515.56,281.37 L515.97,280.79 L516.39,280.89 L516.81,281.64 L517.23,283.04 L517.65,285.08 L518.06,287.74 L518.48,290.98 L518.90,294.78 L519.32,299.12 L519.73,303.93 L520.15,309.20 L520.57,314.86 L520.99,320.87 L521.40,327.18 L521.82,333.73 L522.24,340.47 L522.66,347.34 L523.07,354.28 L523.49,361.25 L523.91,368.18 L524.33,375.03 L524.75,381.74 L525.16,388.28 L525.58,394.59 L526.00,400.64 L526.42,406.40 L526.83,411.83 L527.25,416.89 L527.67,421.58 L528.09,425.86 L528.50,429.72 L528.92,433.13 L529.34,436.09 L529.76,438.58 L530.17,440.59 L530.59,442.11 L531.01,443.14 L531.43,443.67 L531.85,443.69 L532.26,443.20 L532.68,442.21 L533.10,440.70 L533.52,438.67 L533.93,436.14 L534.35,433.10 L534.77,429.55 L535.19,425.51 L535.60,420.98 L536.02,415.98 L536.44,410.51 L536.86,404.60 L537.27,398.26 L537.69,391.52 L538.11,384.41 L538.53,376.96 L538.95,369.21 L539.36,361.20 L539.78,352.97 L540.20,344.57 L540.62,336.07 L541.03,327.50 L541.45,318.93 L541.87,310.43 L542.29,302.05 L542.70,293.85 L543.12,285.90 L543.54,278.25 L543.96,270.96 L544.37,264.08 L544.79,257.66 L545.21,251.74 L545.63,246.37 L546.04,241.57 L546.46,237.37 L546.88,233.79 L547.30,230.86 L547.72,228.59 L548.13,226.98 L548.55,226.04 L548.97,225.77 L549.39,226.17 L549.80,227.24 L550.22,228.95 L550.64,231.30 L551.06,234.27 L551.47,237.83 L551.89,241.96 L552.31,246.63 L552.73,251.80 L553.14,257.42 L553.56,263.47 L553.98,269.88 L554.40,276.61 L554.82,283.59 L555.23,290.78 L555.65,298.12 L556.07,305.53 L556.49,312.98 L556.90,320.39 L557.32,327.72 L557.74,334.91 L558.16,341.90 L558.57,348.65 L558.99,355.12 L559.41,361.27 L559.83,367.05 L560.24,372.44 L560.66,377.41 L561.08,381.92 L561.50,385.97 L561.92,389.52 L562.33,392.56 L562.75,395.08 L563.17,397.07 L563.59,398.51 L564.00,399.40 L564.42,399.72 L564.84,399.49 L565.26,398.69 L565.67,397.31 L566.09,395.37 L566.51,392.87 L566.93,389.80 L567.34,386.17 L567.76,382.00 L568.18,377.28 L568.60,372.04 L569.02,366.30 L569.43,360.07 L569.85,353.38 L570.27,346.25 L570.69,338.73 L571.10,330.84 L571.52,322.64 L571.94,314.17 L572.36,305.48 L572.77,296.62 L573.19,287.66 L573.61,278.66 L574.03,269.68 L574.44,260.79 L574.86,252.05 L575.28,243.53 L575.70,235.28 L576.12,227.37 L576.53,219.85 L576.95,212.76 L577.37,206.15 L577.79,200.07 L578.20,194.53 L578.62,189.57 L579.04,185.21 L579.46,181.46 L579.87,178.33 L580.29,175.83 L580.71,173.96 L581.13,172.73 L581.54,172.14 L581.96,172.18 L582.38,172.84 L582.80,174.13 L583.21,176.04 L583.63,178.54 L584.05,181.64 L584.47,185.31 L584.89,189.53 L585.30,194.29 L585.72,199.54 L586.14,205.26 L586.56,211.41 L586.97,217.94 L587.39,224.81 L587.81,231.96 L588.23,239.34 L588.64,246.88 L589.06,254.53 L589.48,262.23 L589.90,269.92 L590.31,277.53 L590.73,285.00 L591.15,292.29 L591.57,299.33 L591.99,306.07 L592.40,312.48 L592.82,318.50 L593.24,324.10 L593.66,329.24 L594.07,333.90 L594.49,338.04 L594.91,341.65 L595.33,344.70 L595.74,347.18 L596.16,349.08 L596.58,350.37 L597.00,351.06 L597.41,351.14 L597.83,350.60 L598.25,349.43 L598.67,347.65 L599.09,345.25 L599.50,342.24 L599.92,338.62 L600.34,334.41 L600.76,329.62 L601.17,324.26 L601.59,318.37 L602.01,311.95 L602.43,305.06 L602.84,297.71 L603.26,289.95 L603.68,281.83 L604.10,273.40 L604.51,264.70 L604.93,255.81 L605.35,246.77 L605.77,237.67 L606.19,228.56 L606.60,219.52 L607.02,210.61 L607.44,201.91 L607.86,193.46 L608.27,185.34 L608.69,177.60 L609.11,170.28 L609.53,163.42 L609.94,157.06 L610.36,151.23 L610.78,145.95 L611.20,141.22 L611.61,137.06 L612.03,133.47 L612.45,130.44 L612.87,127.98 L613.28,126.08 L613.70,124.73 L614.12,123.93 L614.54,123.67 L614.96,123.95 L615.37,124.76 L615.79,126.11 L616.21,127.99 L616.63,130.40 L617.04,133.34 L617.46,136.79 L617.88,140.76 L618.30,145.22 L618.71,150.17 L619.13,155.58 L619.55,161.42 L619.97,167.65 L620.38,174.25 L620.80,181.15 L621.22,188.32 L621.64,195.69 L622.06,203.21 L622.47,210.81 L622.89,218.43 L623.31,226.01 L623.73,233.48 L624.14,240.78 L624.56,247.85 L624.98,254.64 L625.40,261.09 L625.81,267.15 L626.23,272.78 L626.65,277.94 L627.07,282.60 L627.48,286.71 L627.90,290.26 L628.32,293.22 L628.74,295.56 L629.16,297.29 L629.57,298.37 L629.99,298.80 L630.41,298.58 L630.83,297.70 L631.24,296.16 L631.66,293.97 L632.08,291.12 L632.50,287.64 L632.91,283.53 L633.33,278.82 L633.75,273.52 L634.17,267.66 L634.58,261.28 L635.00,254.41 L635.42,247.09 L635.84,239.38 L636.26,231.33 L636.67,222.99 L637.09,214.44 L637.51,205.72 L637.93,196.93 L638.34,188.13 L638.76,179.39 L639.18,170.78 L639.60,162.37 L640.01,154.24 L640.43,146.43 L640.85,139.00 L641.27,132.00 L641.68,125.46 L642.10,119.41 L642.52,113.87 L642.94,108.84 L643.36,104.34 L643.77,100.35 L644.19,96.87 L644.61,93.88 L645.03,91.36 L645.44,89.30 L645.86,87.68 L646.28,86.48 L646.70,85.68 L647.11,85.28 L647.53,85.28 L647.95,85.66 L648.37,86.42 L648.78,87.59 L649.20,89.15 L649.62,91.13 L650.04,93.52 L650.45,96.34 L650.87,99.61 L651.29,103.31 L651.71,107.45 L652.13,112.03 L652.54,117.04 L652.96,122.45 L653.38,128.23 L653.80,134.36 L654.21,140.79 L654.63,147.47 L655.05,154.35 L655.47,161.37 L655.88,168.47 L656.30,175.57 L656.72,182.63 L657.14,189.56 L657.55,196.30 L657.97,202.80 L658.39,208.98 L658.81,214.81 L659.23,220.22 L659.64,225.17 L660.06,229.61 L660.48,233.51 L660.90,236.84 L661.31,239.57 L661.73,241.67 L662.15,243.13 L662.57,243.94 L662.98,244.07 L663.40,243.54 L663.82,242.33 L664.24,240.45 L664.65,237.91 L665.07,234.71 L665.49,230.89 L665.91,226.46 L666.33,221.45 L666.74,215.89 L667.16,209.83 L667.58,203.31 L668.00,196.38 L668.41,189.10 L668.83,181.53 L669.25,173.74 L669.67,165.80 L670.08,157.79 L670.50,149.78 L670.92,141.85 L671.34,134.07 L671.75,126.52 L672.17,119.26 L672.59,112.35 L673.01,105.84 L673.43,99.77 L673.84,94.18 L674.26,89.07 L674.68,84.47 L675.10,80.37 L675.51,76.76 L675.93,73.62 L676.35,70.92 L676.77,68.63 L677.18,66.73 L677.60,65.16 L678.02,63.91 L678.44,62.93 L678.85,62.20 L679.27,61.70 L679.69,61.40 L680.11,61.29 L680.53,61.38 L680.94,61.65 L681.36,62.12 L681.78,62.81 L682.20,63.72 L682.61,64.89 L683.03,66.34 L683.45,68.10 L683.87,70.19 L684.28,72.63 L684.70,75.44 L685.12,78.65 L685.54,82.24 L685.95,86.24 L686.37,90.62 L686.79,95.37 L687.21,100.46 L687.62,105.85 L688.04,111.51 L688.46,117.37 L688.88,123.38 L689.30,129.48 L689.71,135.60 L690.13,141.68 L690.55,147.64 L690.97,153.42 L691.38,158.96 L691.80,164.19 L692.22,169.05 L692.64,173.50 L693.05,177.48 L693.47,180.95 L693.89,183.88 L694.31,186.23 L694.72,187.97 L695.14,189.09 L695.56,189.57 L695.98,189.40 L696.40,188.58 L696.81,187.12 L697.23,185.02 L697.65,182.29 L698.07,178.96 L698.48,175.06 L698.90,170.62 L699.32,165.69 L699.74,160.30 L700.15,154.52 L700.57,148.40 L700.99,142.02 L701.41,135.43 L701.82,128.73 L702.24,121.98 L702.66,115.27 L703.08,108.67 L703.50,102.26 L703.91,96.11 L704.33,90.29 L704.75,84.85 L705.17,79.84 L705.58,75.30 L706.00,71.26 L706.42,67.71 L706.84,64.67 L707.25,62.11 L707.67,60.02 L708.09,58.36 L708.51,57.09 L708.92,56.15 L709.34,55.51 L709.76,55.11 L710.18,54.89 L710.60,54.81 L711.01,54.81 L711.43,54.87 L711.85,54.95 L712.27,55.01 L712.68,55.05 L713.10,55.06 L713.52,55.03 L713.94,54.96 L714.35,54.89 L714.77,54.82 L715.19,54.80 L715.61,54.85 L716.02,55.02 L716.44,55.34 L716.86,55.86 L717.28,56.63 L717.69,57.67 L718.11,59.02 L718.53,60.72 L718.95,62.78 L719.37,65.22 L719.78,68.03 L720.20,71.21 L720.62,74.73 L721.04,78.57 L721.45,82.70 L721.87,87.05 L722.29,91.58 L722.71,96.23 L723.12,100.93 L723.54,105.62 L723.96,110.22 L724.38,114.68 L724.79,118.92 L725.21,122.88 L725.63,126.51 L726.05,129.75 L726.47,132.56 L726.88,134.90 L727.30,136.72 L727.72,138.01 L728.14,138.74 L728.55,138.91 L728.97,138.49 L729.39,137.50 L729.81,135.95 L730.22,133.85 L730.64,131.22 L731.06,128.10 L731.48,124.53 L731.89,120.55 L732.31,116.22 L732.73,111.60 L733.15,106.76 L733.57,101.76 L733.98,96.69 L734.40,91.63 L734.82,86.65 L735.24,81.83 L735.65,77.24 L736.07,72.96 L736.49,69.05 L736.91,65.56 L737.32,62.54 L737.74,60.01 L738.16,57.98 L738.58,56.47 L738.99,55.46 L739.41,54.92 L739.83,54.81 L740.25,55.10 L740.67,55.73 L741.08,56.63 L741.50,57.75 L741.92,59.01 L742.34,60.35 L742.75,61.70 L743.17,63.01 L743.59,64.23 L744.01,65.29 L744.42,66.17 L744.84,66.83 L745.26,67.25 L745.68,67.41 L746.09,67.32 L746.51,66.97 L746.93,66.39 L747.35,65.58 L747.77,64.59 L748.18,63.46 L748.60,62.21 L749.02,60.92 L749.44,59.62 L749.85,58.37 L750.27,57.23 L750.69,56.26 L751.11,55.50 L751.52,55.00 L751.94,54.80 L752.36,54.94 L752.78,55.43 L753.19,56.29 L753.61,57.52 L754.03,59.10 L754.45,61.03 L754.86,63.25 L755.28,65.75 L755.70,68.46 L756.12,71.32 L756.54,74.29 L756.95,77.30 L757.37,80.28 L757.79,83.16 L758.21,85.90 L758.62,88.43 L759.04,90.69 L759.46,92.64 L759.88,94.24 L760.29,95.44 L760.71,96.24 L761.13,96.60 L761.55,96.52 L761.96,96.00 L762.38,95.04 L762.80,93.66 L763.22,91.89 L763.64,89.75 L764.05,87.29 L764.47,84.57 L764.89,81.63 L765.31,78.54 L765.72,75.37 L766.14,72.19 L766.56,69.08 L766.98,66.11 L767.39,63.36 L767.81,60.90 L768.23,58.78 L768.65,57.08 L769.06,55.82 L769.48,55.06 L769.90,54.80 L770.32,55.06 L770.74,55.82 L771.15,57.08 L771.57,58.78 L771.99,60.90 L772.41,63.36 L772.82,66.11 L773.24,69.08 L773.66,72.19 L774.08,75.37 L774.49,78.54 L774.91,81.63 L775.33,84.57 L775.75,87.29 L776.16,89.75 L776.58,91.89 L777.00,93.66 L777.42,95.04 L777.84,96.00 L778.25,96.52 L778.67,96.60 L779.09,96.24 L779.51,95.44 L779.92,94.24 L780.34,92.64 L780.76,90.69 L781.18,88.43 L781.59,85.90 L782.01,83.16 L782.43,80.28 L782.85,77.30 L783.26,74.29 L783.68,71.32 L784.10,68.46 L784.52,65.75 L784.94,63.25 L785.35,61.03 L785.77,59.10 L786.19,57.52 L786.61,56.29 L787.02,55.43 L787.44,54.94 L787.86,54.80 L788.28,55.00 L788.69,55.50 L789.11,56.26 L789.53,57.23 L789.95,58.37 L790.36,59.62 L790.78,60.92 L791.20,62.21 L791.62,63.46 L792.03,64.59 L792.45,65.58 L792.87,66.39 L793.29,66.97 L793.71,67.32 L794.12,67.41 L794.54,67.25 L794.96,66.83 L795.38,66.17 L795.79,65.29 L796.21,64.23 L796.63,63.01 L797.05,61.70 L797.46,60.35 L797.88,59.01 L798.30,57.75 L798.72,56.63 L799.13,55.73 L799.55,55.10 L799.97,54.81 L800.39,54.92 L800.81,55.46 L801.22,56.47 L801.64,57.98 L802.06,60.01 L802.48,62.54 L802.89,65.56 L803.31,69.05 L803.73,72.96 L804.15,77.24 L804.56,81.83 L804.98,86.65 L805.40,91.63 L805.82,96.69 L806.23,101.76 L806.65,106.76 L807.07,111.60 L807.49,116.22 L807.91,120.55 L808.32,124.53 L808.74,128.10 L809.16,131.22 L809.58,133.85 L809.99,135.95 L810.41,137.50 L810.83,138.49 L811.25,138.91 L811.66,138.74 L812.08,138.01 L812.50,136.72 L812.92,134.90 L813.33,132.56 L813.75,129.75 L814.17,126.51 L814.59,122.88 L815.01,118.92 L815.42,114.68 L815.84,110.22 L816.26,105.62 L816.68,100.93 L817.09,96.23 L817.51,91.58 L817.93,87.05 L818.35,82.70 L818.76,78.57 L819.18,74.73 L819.60,71.21 L820.02,68.03 L820.43,65.22 L820.85,62.78 L821.27,60.72 L821.69,59.02 L822.11,57.67 L822.52,56.63 L822.94,55.86 L823.36,55.34 L823.78,55.02 L824.19,54.85 L824.61,54.80 L825.03,54.82 L825.45,54.89 L825.86,54.96 L826.28,55.03 L826.70,55.06 L827.12,55.05 L827.53,55.01 L827.95,54.95 L828.37,54.87 L828.79,54.81 L829.20,54.81 L829.62,54.89 L830.04,55.11 L830.46,55.51 L830.88,56.15 L831.29,57.09 L831.71,58.36 L832.13,60.02 L832.55,62.11 L832.96,64.67 L833.38,67.71 L833.80,71.26 L834.22,75.30 L834.63,79.84 L835.05,84.85 L835.47,90.29 L835.89,96.11 L836.30,102.26 L836.72,108.67 L837.14,115.27 L837.56,121.98 L837.98,128.73 L838.39,135.43 L838.81,142.02 L839.23,148.40 L839.65,154.52 L840.06,160.30 L840.48,165.69 L840.90,170.62 L841.32,175.06 L841.73,178.96 L842.15,182.29 L842.57,185.02 L842.99,187.12 L843.40,188.58 L843.82,189.40 L844.24,189.57 L844.66,189.09 L845.08,187.97 L845.49,186.23 L845.91,183.88 L846.33,180.95 L846.75,177.48 L847.16,173.50 L847.58,169.05 L848.00,164.19 L848.42,158.96 L848.83,153.42 L849.25,147.64 L849.67,141.68 L850.09,135.60 L850.50,129.48 L850.92,123.38 L851.34,117.37 L851.76,111.51 L852.18,105.85 L852.59,100.46 L853.01,95.37 L853.43,90.62 L853.85,86.24 L854.26,82.24 L854.68,78.65 L855.10,75.44 L855.52,72.63 L855.93,70.19 L856.35,68.10 L856.77,66.34 L857.19,64.89 L857.60,63.72 L858.02,62.81 L858.44,62.12 L858.86,61.65 L859.27,61.38 L859.69,61.29 L860.11,61.40 L860.53,61.70 L860.95,62.20 L861.36,62.93 L861.78,63.91 L862.20,65.16 L862.62,66.73 L863.03,68.63 L863.45,70.92 L863.87,73.62 L864.29,76.76 L864.70,80.37 L865.12,84.47 L865.54,89.07 L865.96,94.18 L866.37,99.77 L866.79,105.84 L867.21,112.35 L867.63,119.26 L868.05,126.52 L868.46,134.07 L868.88,141.85 L869.30,149.78 L869.72,157.79 L870.13,165.80 L870.55,173.74 L870.97,181.53 L871.39,189.10 L871.80,196.38 L872.22,203.31 L872.64,209.83 L873.06,215.89 L873.47,221.45 L873.89,226.46 L874.31,230.89 L874.73,234.71 L875.15,237.91 L875.56,240.45 L875.98,242.33 L876.40,243.54 L876.82,244.07 L877.23,243.94 L877.65,243.13 L878.07,241.67 L878.49,239.57 L878.90,236.84 L879.32,233.51 L879.74,229.61 L880.16,225.17 L880.57,220.22 L880.99,214.81 L881.41,208.98 L881.83,202.80 L882.25,196.30 L882.66,189.56 L883.08,182.63 L883.50,175.57 L883.92,168.47 L884.33,161.37 L884.75,154.35 L885.17,147.47 L885.59,140.79 L886.00,134.36 L886.42,128.23 L886.84,122.45 L887.26,117.04 L887.67,112.03 L888.09,107.45 L888.51,103.31 L888.93,99.61 L889.35,96.34 L889.76,93.52 L890.18,91.13 L890.60,89.15 L891.02,87.59 L891.43,86.42 L891.85,85.66 L892.27,85.28 L892.69,85.28 L893.10,85.68 L893.52,86.48 L893.94,87.68 L894.36,89.30 L894.77,91.36 L895.19,93.88 L895.61,96.87 L896.03,100.35 L896.44,104.34 L896.86,108.84 L897.28,113.87 L897.70,119.41 L898.12,125.46 L898.53,132.00 L898.95,139.00 L899.37,146.43 L899.79,154.24 L900.20,162.37 L900.62,170.78 L901.04,179.39 L901.46,188.13 L901.87,196.93 L902.29,205.72 L902.71,214.44 L903.13,222.99 L903.54,231.33 L903.96,239.38 L904.38,247.09 L904.80,254.41 L905.22,261.28 L905.63,267.66 L906.05,273.52 L906.47,278.82 L906.89,283.53 L907.30,287.64 L907.72,291.12 L908.14,293.97 L908.56,296.16 L908.97,297.70 L909.39,298.58 L909.81,298.80 L910.23,298.37 L910.64,297.29 L911.06,295.56 L911.48,293.22 L911.90,290.26 L912.32,286.71 L912.73,282.60 L913.15,277.94 L913.57,272.78 L913.99,267.15 L914.40,261.09 L914.82,254.64 L915.24,247.85 L915.66,240.78 L916.07,233.48 L916.49,226.01 L916.91,218.43 L917.33,210.81 L917.74,203.21 L918.16,195.69 L918.58,188.32 L919.00,181.15 L919.42,174.25 L919.83,167.65 L920.25,161.42 L920.67,155.58 L921.09,150.17 L921.50,145.22 L921.92,140.76 L922.34,136.79 L922.76,133.34 L923.17,130.40 L923.59,127.99 L924.01,126.11 L924.43,124.76 L924.84,123.95 L925.26,123.67 L925.68,123.93 L926.10,124.73 L926.51,126.08 L926.93,127.98 L927.35,130.44 L927.77,133.47 L928.19,137.06 L928.60,141.22 L929.02,145.95 L929.44,151.23 L929.86,157.06 L930.27,163.42 L930.69,170.28 L931.11,177.60 L931.53,185.34 L931.94,193.46 L932.36,201.91 L932.78,210.61 L933.20,219.52 L933.61,228.56 L934.03,237.67 L934.45,246.77 L934.87,255.81 L935.29,264.70 L935.70,273.40 L936.12,281.83 L936.54,289.95 L936.96,297.71 L937.37,305.06 L937.79,311.95 L938.21,318.37 L938.63,324.26 L939.04,329.62 L939.46,334.41 L939.88,338.62 L940.30,342.24 L940.71,345.25 L941.13,347.65 L941.55,349.43 L941.97,350.60 L942.39,351.14 L942.80,351.06 L943.22,350.37 L943.64,349.08 L944.06,347.18 L944.47,344.70 L944.89,341.65 L945.31,338.04 L945.73,333.90 L946.14,329.24 L946.56,324.10 L946.98,318.50 L947.40,312.48 L947.81,306.07 L948.23,299.33 L948.65,292.29 L949.07,285.00 L949.49,277.53 L949.90,269.92 L950.32,262.23 L950.74,254.53 L951.16,246.88 L951.57,239.34 L951.99,231.96 L952.41,224.81 L952.83,217.94 L953.24,211.41 L953.66,205.26 L954.08,199.54 L954.50,194.29 L954.91,189.53 L955.33,185.31 L955.75,181.64 L956.17,178.54 L956.59,176.04 L957.00,174.13 L957.42,172.84 L957.84,172.18 L958.26,172.14 L958.67,172.73 L959.09,173.96 L959.51,175.83 L959.93,178.33 L960.34,181.46 L960.76,185.21 L961.18,189.57 L961.60,194.53 L962.01,200.07 L962.43,206.15 L962.85,212.76 L963.27,219.85 L963.68,227.37 L964.10,235.28 L964.52,243.53 L964.94,252.05 L965.36,260.79 L965.77,269.68 L966.19,278.66 L966.61,287.66 L967.03,296.62 L967.44,305.48 L967.86,314.17 L968.28,322.64 L968.70,330.84 L969.11,338.73 L969.53,346.25 L969.95,353.38 L970.37,360.07 L970.78,366.30 L971.20,372.04 L971.62,377.28 L972.04,382.00 L972.46,386.17 L972.87,389.80 L973.29,392.87 L973.71,395.37 L974.13,397.31 L974.54,398.69 L974.96,399.49 L975.38,399.72 L975.80,399.40 L976.21,398.51 L976.63,397.07 L977.05,395.08 L977.47,392.56 L977.88,389.52 L978.30,385.97 L978.72,381.92 L979.14,377.41 L979.56,372.44 L979.97,367.05 L980.39,361.27 L980.81,355.12 L981.23,348.65 L981.64,341.90 L982.06,334.91 L982.48,327.72 L982.90,320.39 L983.31,312.98 L983.73,305.53 L984.15,298.12 L984.57,290.78 L984.98,283.59 L985.40,276.61 L985.82,269.88 L986.24,263.47 L986.66,257.42 L987.07,251.80 L987.49,246.63 L987.91,241.96 L988.33,237.83 L988.74,234.27 L989.16,231.30 L989.58,228.95 L990.00,227.24 L990.41,226.17 L990.83,225.77 L991.25,226.04 L991.67,226.98 L992.08,228.59 L992.50,230.86 L992.92,233.79 L993.34,237.37 L993.76,241.57 L994.17,246.37 L994.59,251.74 L995.01,257.66 L995.43,264.08 L995.84,270.96 L996.26,278.25 L996.68,285.90 L997.10,293.85 L997.51,302.05 L997.93,310.43 L998.35,318.93 L998.77,327.50 L999.18,336.07 L999.60,344.57 L1000.02,352.97 L1000.44,361.20 L1000.85,369.21 L1001.27,376.96 L1001.69,384.41 L1002.11,391.52 L1002.53,398.26 L1002.94,404.60 L1003.36,410.51 L1003.78,415.98 L1004.20,420.98 L1004.61,425.51 L1005.03,429.55 L1005.45,433.10 L1005.87,436.14 L1006.28,438.67 L1006.70,440.70 L1007.12,442.21 L1007.54,443.20 L1007.95,443.69 L1008.37,443.67 L1008.79,443.14 L1009.21,442.11 L1009.63,440.59 L1010.04,438.58 L1010.46,436.09 L1010.88,433.13 L1011.30,429.72 L1011.71,425.86 L1012.13,421.58 L1012.55,416.89 L1012.97,411.83 L1013.38,406.40 L1013.80,400.64 L1014.22,394.59 L1014.64,388.28 L1015.05,381.74 L1015.47,375.03 L1015.89,368.18 L1016.31,361.25 L1016.73,354.28 L1017.14,347.34 L1017.56,340.47 L1017.98,333.73 L1018.40,327.18 L1018.81,320.87 L1019.23,314.86 L1019.65,309.20 L1020.07,303.93 L1020.48,299.12 L1020.90,294.78 L1021.32,290.98 L1021.74,287.74 L1022.15,285.08 L1022.57,283.04 L1022.99,281.64 L1023.41,280.89 L1023.83,280.79 L1024.24,281.37 L1024.66,282.60 L1025.08,284.50 L1025.50,287.05 L1025.91,290.23 L1026.33,294.03 L1026.75,298.42 L1027.17,303.36 L1027.58,308.83 L1028.00,314.78 L1028.42,321.16 L1028.84,327.94 L1029.25,335.04 L1029.67,342.43 L1030.09,350.04 L1030.51,357.82 L1030.92,365.71 L1031.34,373.64 L1031.76,381.58 L1032.18,389.46 L1032.60,397.23 L1033.01,404.84 L1033.43,412.26 L1033.85,419.44 L1034.27,426.34 L1034.68,432.94 L1035.10,439.20 L1035.52,445.09 L1035.94,450.61 L1036.35,455.73 L1036.77,460.43 L1037.19,464.71 L1037.61,468.56 L1038.02,471.96 L1038.44,474.91 L1038.86,477.41 L1039.28,479.45 L1039.70,481.04 L1040.11,482.18 L1040.53,482.85 L1040.95,483.08 L1041.37,482.85 L1041.78,482.18 L1042.20,481.06 L1042.62,479.51 L1043.04,477.52 L1043.45,475.11 L1043.87,472.29 L1044.29,469.06 L1044.71,465.44 L1045.12,461.45 L1045.54,457.09 L1045.96,452.40 L1046.38,447.39 L1046.80,442.09 L1047.21,436.53 L1047.63,430.74 L1048.05,424.75 L1048.47,418.60 L1048.88,412.34 L1049.30,406.00 L1049.72,399.64 L1050.14,393.29 L1050.55,387.03 L1050.97,380.88 L1051.39,374.92 L1051.81,369.18 L1052.22,363.73 L1052.64,358.60 L1053.06,353.86 L1053.48,349.54 L1053.90,345.68 L1054.31,342.33 L1054.73,339.51 L1055.15,337.26 L1055.57,335.60 L1055.98,334.55 L1056.40,334.12 L1056.82,334.33 L1057.24,335.16 L1057.65,336.63 L1058.07,338.71 L1058.49,341.40 L1058.91,344.68 L1059.32,348.52 L1059.74,352.89 L1060.16,357.76 L1060.58,363.08 L1061.00,368.81 L1061.41,374.91 L1061.83,381.32 L1062.25,388.00 L1062.67,394.89 L1063.08,401.94 L1063.50,409.09 L1063.92,416.30 L1064.34,423.51 L1064.75,430.67 L1065.17,437.73 L1065.59,444.67 L1066.01,451.43 L1066.42,457.98 L1066.84,464.29 L1067.26,470.32 L1067.68,476.07 L1068.09,481.49 L1068.51,486.58 L1068.93,491.31 L1069.35,495.68 L1069.77,499.68 L1070.18,503.29 L1070.60,506.51 L1071.02,509.33 L1071.44,511.76 L1071.85,513.78 L1072.27,515.40 L1072.69,516.62 L1073.11,517.43 L1073.52,517.85 L1073.94,517.86 L1074.36,517.48 L1074.78,516.70 L1075.19,515.54 L1075.61,513.99 L1076.03,512.06 L1076.45,509.76 L1076.87,507.10 L1077.28,504.09 L1077.70,500.73 L1078.12,497.05 L1078.54,493.05 L1078.95,488.75 L1079.37,484.19 L1079.79,479.36 L1080.21,474.31 L1080.62,469.06 L1081.04,463.65 L1081.46,458.10 L1081.88,452.45 L1082.29,446.75 L1082.71,441.03 L1083.13,435.34 L1083.55,429.73 L1083.97,424.24 L1084.38,418.92 L1084.80,413.82 L1085.22,408.99 L1085.64,404.47 L1086.05,400.30 L1086.47,396.54 L1086.89,393.21 L1087.31,390.35 L1087.72,388.00 L1088.14,386.17 L1088.56,384.90 L1088.98,384.19 L1089.39,384.07 L1089.81,384.52 L1090.23,385.56 L1090.65,387.17 L1091.07,389.35 L1091.48,392.08 L1091.90,395.33 L1092.32,399.07 L1092.74,403.28 L1093.15,407.92 L1093.57,412.94 L1093.99,418.31 L1094.41,423.98 L1094.82,429.90 L1095.24,436.02 L1095.66,442.30 L1096.08,448.68 L1096.49,455.12 L1096.91,461.58 L1097.33,468.00 L1097.75,474.35 L1098.17,480.59 L1098.58,486.68 L1099.00,492.60 L1099.42,498.31 L1099.84,503.79 L1100.25,509.01 L1100.67,513.95 L1101.09,518.60 L1101.51,522.95 L1101.92,526.98 L1102.34,530.68 L1102.76,534.04 L1103.18,537.06 L1103.59,539.73 L1104.01,542.05 L1104.43,544.02 L1104.85,545.64 L1105.26,546.90 L1105.68,547.81 L1106.10,548.36 L1106.52,548.57 L1106.94,548.42 L1107.35,547.92 L1107.77,547.08 L1108.19,545.90 L1108.61,544.39 L1109.02,542.54 L1109.44,540.37 L1109.86,537.89 L1110.28,535.09 L1110.69,532.00 L1111.11,528.63 L1111.53,524.98 L1111.95,521.08 L1112.36,516.95 L1112.78,512.60 L1113.20,508.05 L1113.62,503.34 L1114.04,498.48 L1114.45,493.52 L1114.87,488.49 L1115.29,483.41 L1115.71,478.33 L1116.12,473.29 L1116.54,468.34 L1116.96,463.50 L1117.38,458.83 L1117.79,454.37 L1118.21,450.16 L1118.63,446.24 L1119.05,442.66 L1119.46,439.45 L1119.88,436.64 L1120.30,434.27 L1120.72,432.36 L1121.14,430.94 L1121.55,430.02 L1121.97,429.63 L1122.39,429.75 L1122.81,430.41 L1123.22,431.58 L1123.64,433.28 L1124.06,435.47 L1124.48,438.15 L1124.89,441.28 L1125.31,444.85 L1125.73,448.81 L1126.15,453.13 L1126.56,457.78 L1126.98,462.71 L1127.40,467.88 L1127.82,473.25 L1128.24,478.77 L1128.65,484.39 L1129.07,490.09 L1129.49,495.81 L1129.91,501.52 L1130.32,507.18 L1130.74,512.75 L1131.16,518.20 L1131.58,523.51 L1131.99,528.64 L1132.41,533.58 L1132.83,538.29 L1133.25,542.78 L1133.66,547.01 L1134.08,550.97 L1134.50,554.66 L1134.92,558.07 L1135.34,561.18 L1135.75,564.00 L1136.17,566.51 L1136.59,568.71 L1137.01,570.61 L1137.42,572.20 L1137.84,573.47 L1138.26,574.43 L1138.68,575.09 L1139.09,575.43 L1139.51,575.47 L1139.93,575.20 L1140.35,574.62 L1140.76,573.75 L1141.18,572.58 L1141.60,571.11 L1142.02,569.36 L1142.43,567.33 L1142.85,565.02 L1143.27,562.45 L1143.69,559.62 L1144.11,556.55 L1144.52,553.24 L1144.94,549.71 L1145.36,545.99 L1145.78,542.08 L1146.19,538.01 L1146.61,533.80 L1147.03,529.48 L1147.45,525.08 L1147.86,520.62 L1148.28,516.13 L1148.70,511.66 L1149.12,507.24 L1149.53,502.90 L1149.95,498.68 L1150.37,494.62 L1150.79,490.76 L1151.21,487.14 L1151.62,483.79 L1152.04,480.76 L1152.46,478.06 L1152.88,475.74 L1153.29,473.81 L1153.71,472.31 L1154.13,471.25 L1154.55,470.64 L1154.96,470.50 L1155.38,470.83 L1155.80,471.63 L1156.22,472.89 L1156.63,474.61 L1157.05,476.76 L1157.47,479.34 L1157.89,482.30 L1158.31,485.64 L1158.72,489.31 L1159.14,493.28 L1159.56,497.52 L1159.98,501.98 L1160.39,506.64 L1160.81,511.45 L1161.23,516.37 L1161.65,521.37 L1162.06,526.41 L1162.48,531.45 L1162.90,536.45 L1163.32,541.40 L1163.73,546.25 L1164.15,550.99 L1164.57,555.59 L1164.99,560.02 L1165.41,564.26 L1165.82,568.31 L1166.24,572.15 L1166.66,575.75 L1167.08,579.12 L1167.49,582.25 L1167.91,585.12 L1168.33,587.73 L1168.75,590.07 L1169.16,592.15 L1169.58,593.96 L1170.00,595.50 L1170.42,596.77 L1170.83,597.76 L1171.25,598.48 L1171.67,598.93 L1172.09,599.10 L1172.50,599.01 L1172.92,598.65 L1173.34,598.03 L1173.76,597.14 L1174.18,595.99 L1174.59,594.59 L1175.01,592.94 L1175.43,591.05 L1175.85,588.92 L1176.26,586.55 L1176.68,583.97 L1177.10,581.18 L1177.52,578.19 L1177.93,575.01 L1178.35,571.67 L1178.77,568.17 L1179.19,564.54 L1179.60,560.80 L1180.02,556.97 L1180.44,553.07 L1180.86,549.14 L1181.28,545.20 L1181.69,541.28 L1182.11,537.42 L1182.53,533.64 L1182.95,529.99 L1183.36,526.49 L1183.78,523.18 L1184.20,520.10 L1184.62,517.27 L1185.03,514.72 L1185.45,512.49 L1185.87,510.59 L1186.29,509.06 L1186.70,507.91 L1187.12,507.16 L1187.54,506.81 L1187.96,506.88 L1188.38,507.36 L1188.79,508.26 L1189.21,509.56 L1189.63,511.25 L1190.05,513.33 L1190.46,515.76 L1190.88,518.53 L1191.30,521.61 L1191.72,524.98 L1192.13,528.59 L1192.55,532.42 L1192.97,536.43 L1193.39,540.60 L1193.80,544.88 L1194.22,549.24 L1194.64,553.65 L1195.06,558.08 L1195.48,562.49 L1195.89,566.87 L1196.31,571.17 L1196.73,575.39 L1197.15,579.49 L1197.56,583.46 L1197.98,587.27 L1198.40,590.92 L1198.82,594.38 L1199.23,597.66 L1199.65,600.73 L1200.07,603.58 L1200.49,606.22 L1200.90,608.64 L1201.32,610.82 L1201.74,612.78 L1202.16,614.49 L1202.58,615.97 L1202.99,617.21 L1203.41,618.21 L1203.83,618.97 L1204.25,619.50 L1204.66,619.78 L1205.08,619.83 L1205.50,619.64 L1205.92,619.21 L1206.33,618.56 L1206.75,617.67 L1207.17,616.56 L1207.59,615.23 L1208.00,613.68 L1208.42,611.93 L1208.84,609.96 L1209.26,607.80 L1209.67,605.45 L1210.09,602.91 L1210.51,600.21 L1210.93,597.36 L1211.35,594.36 L1211.76,591.24 L1212.18,588.00 L1212.60,584.68 L1213.02,581.29 L1213.43,577.86 L1213.85,574.40 L1214.27,570.95 L1214.69,567.53 L1215.10,564.17 L1215.52,560.90 L1215.94,557.75 L1216.36,554.75 L1216.77,551.93 L1217.19,549.32 L1217.61,546.94 L1218.03,544.83 L1218.45,543.00 L1218.86,541.48 L1219.28,540.29 L1219.70,539.43 L1220.12,538.93 L1220.53,538.80 L1220.95,539.02 L1221.37,539.61 L1221.79,540.57 L1222.20,541.87 L1222.62,543.52 L1223.04,545.49 L1223.46,547.77 L1223.87,550.33 L1224.29,553.16 L1224.71,556.22 L1225.13,559.48 L1225.55,562.92 L1225.96,566.51 L1226.38,570.21 L1226.80,574.01 L1227.22,577.86 L1227.63,581.74 L1228.05,585.62 L1228.47,589.48 L1228.89,593.29 L1229.30,597.03 L1229.72,600.69 L1230.14,604.23 L1230.56,607.66 L1230.97,610.94 L1231.39,614.07 L1231.81,617.03 L1232.23,619.83 L1232.65,622.44 L1233.06,624.86 L1233.48,627.09 L1233.90,629.12 L1234.32,630.95 L1234.73,632.57 L1235.15,633.98 L1235.57,635.18 L1235.99,636.18 L1236.40,636.96 L1236.82,637.54 L1237.24,637.90 L1237.66,638.05 L1238.07,638.00 L1238.49,637.74 L1238.91,637.27 L1239.33,636.60 L1239.74,635.73 L1240.16,634.66 L1240.58,633.40 L1241.00,631.96 L1241.42,630.33 L1241.83,628.52 L1242.25,626.54 L1242.67,624.40 L1243.09,622.11 L1243.50,619.67 L1243.92,617.10 L1244.34,614.42 L1244.76,611.63 L1245.17,608.76 L1245.59,605.81 L1246.01,602.81 L1246.43,599.79 L1246.84,596.76 L1247.26,593.74 L1247.68,590.76 L1248.10,587.85 L1248.52,585.02 L1248.93,582.32 L1249.35,579.76 L1249.77,577.36 L1250.19,575.16 L1250.60,573.18 L1251.02,571.44 L1251.44,569.96 L1251.86,568.75 L1252.27,567.84 L1252.69,567.23 L1253.11,566.94 L1253.53,566.97 L1253.94,567.31 L1254.36,567.98 L1254.78,568.96 L1255.20,570.24 L1255.62,571.82 L1256.03,573.68 L1256.45,575.80 L1256.87,578.15 L1257.29,580.73 L1257.70,583.50 L1258.12,586.43 L1258.54,589.52 L1258.96,592.71 L1259.37,596.00 L1259.79,599.36 L1260.21,602.75 L1260.63,606.16 L1261.04,609.56 L1261.46,612.93 L1261.88,616.25 L1262.30,619.50 L1262.72,622.67 L1263.13,625.74 L1263.55,628.69 L1263.97,631.51 L1264.39,634.20 L1264.80,636.74 L1265.22,639.13 L1265.64,641.35 L1266.06,643.40 L1266.47,645.28 L1266.89,646.99 L1267.31,648.52 L1267.73,649.86 L1268.14,651.02 L1268.56,652.00 L1268.98,652.79 L1269.40,653.40 L1269.82,653.82 L1270.23,654.05 L1270.65,654.10 L1271.07,653.97 L1271.49,653.65 L1271.90,653.16 L1272.32,652.49 L1272.74,651.64 L1273.16,650.62 L1273.57,649.44 L1273.99,648.09 L1274.41,646.58 L1274.83,644.92 L1275.24,643.11 L1275.66,641.16 L1276.08,639.08 L1276.50,636.89 L1276.91,634.58 L1277.33,632.17 L1277.75,629.69 L1278.17,627.13 L1278.59,624.52 L1279.00,621.87 L1279.42,619.21 L1279.84,616.55 L1280.26,613.91 L1280.67,611.32 L1281.09,608.80 L1281.51,606.37 L1281.93,604.05 L1282.34,601.87 L1282.76,599.84 L1283.18,598.00 L1283.60,596.35 L1284.01,594.93 L1284.43,593.74 L1284.85,592.80 L1285.27,592.12 L1285.69,591.71 L1286.10,591.58 L1286.52,591.74 L1286.94,592.17 L1287.36,592.88 L1287.77,593.87 L1288.19,595.11 L1288.61,596.61 L1289.03,598.35 L1289.44,600.30 L1289.86,602.46 L1290.28,604.80 L1290.70,607.30 L1291.11,609.94 L1291.53,612.70 L1291.95,615.54 L1292.37,618.46 L1292.79,621.42 L1293.20,624.41 L1293.62,627.41 L1294.04,630.39 L1294.46,633.33 L1294.87,636.23 L1295.29,639.06 L1295.71,641.81 L1296.13,644.46 L1296.54,647.01 L1296.96,649.44 L1297.38,651.75 L1297.80,653.93 L1298.21,655.97 L1298.63,657.86 L1299.05,659.60 L1299.47,661.19 L1299.89,662.63 L1300.30,663.90 L1300.72,665.02 L1301.14,665.97 L1301.56,666.75 L1301.97,667.38 L1302.39,667.84 L1302.81,668.13 L1303.23,668.27 L1303.64,668.24 L1304.06,668.04 L1304.48,667.69 L1304.90,667.18 L1305.31,666.52 L1305.73,665.70 L1306.15,664.73 L1306.57,663.62 L1306.99,662.36 L1307.40,660.96 L1307.82,659.44 L1308.24,657.78 L1308.66,656.01 L1309.07,654.13 L1309.49,652.15 L1309.91,650.07 L1310.33,647.92 L1310.74,645.70 L1311.16,643.42 L1311.58,641.11 L1312.00,638.77 L1312.41,636.43 L1312.83,634.10 L1313.25,631.79 L1313.67,629.54 L1314.08,627.36 L1314.50,625.26 L1314.92,623.28 L1315.34,621.42 L1315.76,619.72 L1316.17,618.18 L1316.59,616.82 L1317.01,615.66 L1317.43,614.71 L1317.84,613.99 L1318.26,613.51 L1318.68,613.26 L1319.10,613.26 L1319.51,613.51 L1319.93,614.00 L1320.35,614.74 L1320.77,615.71 L1321.18,616.91 L1321.60,618.32 L1322.02,619.94 L1322.44,621.74 L1322.86,623.71 L1323.27,625.83 L1323.69,628.09 L1324.11,630.46 L1324.53,632.92 L1324.94,635.45 L1325.36,638.04 L1325.78,640.66 L1326.20,643.30 L1326.61,645.93 L1327.03,648.54 L1327.45,651.12 L1327.87,653.65 L1328.28,656.11 L1328.70,658.50 L1329.12,660.80 L1329.54,663.01 L1329.96,665.11 L1330.37,667.09 L1330.79,668.96 L1331.21,670.71 L1331.63,672.32 L1332.04,673.80 L1332.46,675.15 L1332.88,676.35 L1333.30,677.42 L1333.71,678.34 L1334.13,679.11 L1334.55,679.74 L1334.97,680.23 L1335.38,680.57 L1335.80,680.77 L1336.22,680.82 L1336.64,680.72 L1337.06,680.49 L1337.47,680.11 L1337.89,679.60 L1338.31,678.95 L1338.73,678.16 L1339.14,677.24 L1339.56,676.19 L1339.98,675.02 L1340.40,673.73 L1340.81,672.33 L1341.23,670.82 L1341.65,669.21 L1342.07,667.50 L1342.48,665.71 L1342.90,663.84 L1343.32,661.91 L1343.74,659.93 L1344.15,657.90 L1344.57,655.85 L1344.99,653.78 L1345.41,651.72 L1345.83,649.67 L1346.24,647.66 L1346.66,645.71 L1347.08,643.82 L1347.50,642.02 L1347.91,640.32 L1348.33,638.74 L1348.75,637.31 L1349.17,636.03 L1349.58,634.91 L1350.00,633.98 L1350.42,633.24 L1350.84,632.70 L1351.25,632.36 L1351.67,632.25 L1352.09,632.35 L1352.51,632.67 L1352.93,633.20 L1353.34,633.94 L1353.76,634.89 L1354.18,636.03 L1354.60,637.36 L1355.01,638.86 L1355.43,640.51 L1355.85,642.31 L1356.27,644.24 L1356.68,646.27 L1357.10,648.40 L1357.52,650.60 L1357.94,652.85 L1358.35,655.15 L1358.77,657.47 L1359.19,659.80 L1359.61,662.12 L1360.03,664.41 L1360.44,666.67 L1360.86,668.88 L1361.28,671.03 L1361.70,673.11 L1362.11,675.11 L1362.53,677.02 L1362.95,678.83 L1363.37,680.55 L1363.78,682.16 L1364.20,683.65 L1364.62,685.03 L1365.04,686.29 L1365.45,687.43 L1365.87,688.44 L1366.29,689.32 L1366.71,690.08 L1367.13,690.72 L1367.54,691.22 L1367.96,691.59 L1368.38,691.83 L1368.80,691.95 L1369.21,691.93 L1369.63,691.79 L1370.05,691.53 L1370.47,691.14 L1370.88,690.62 L1371.30,689.99 L1371.72,689.23 L1372.14,688.36 L1372.55,687.38 L1372.97,686.29 L1373.39,685.10 L1373.81,683.81 L1374.23,682.43 L1374.64,680.96 L1375.06,679.41 L1375.48,677.79 L1375.90,676.11 L1376.31,674.38 L1376.73,672.60 L1377.15,670.80 L1377.57,668.98 L1377.98,667.15 L1378.40,665.33 L1378.82,663.54 L1379.24,661.78 L1379.65,660.08 L1380.07,658.44 L1380.49,656.90 L1380.91,655.45 L1381.32,654.11 L1381.74,652.91 L1382.16,651.84 L1382.58,650.93 L1383.00,650.18 L1383.41,649.61 L1383.83,649.22 L1384.25,649.02 L1384.67,649.00 L1385.08,649.18 L1385.50,649.54 L1385.92,650.10 L1386.34,650.84 L1386.75,651.75 L1387.17,652.84 L1387.59,654.08 L1388.01,655.46 L1388.42,656.99 L1388.84,658.63 L1389.26,660.37 L1389.68,662.21 L1390.10,664.12 L1390.51,666.09 L1390.93,668.10 L1391.35,670.14 L1391.77,672.20 L1392.18,674.26 L1392.60,676.30 L1393.02,678.32 L1393.44,680.30 L1393.85,682.24 L1394.27,684.12 L1394.69,685.93 L1395.11,687.67 L1395.52,689.33 L1395.94,690.91 L1396.36,692.39" fill="none" stroke="#5E81B5" stroke-width="6.3" stroke-linejoin="round" stroke-linecap="square"/>
<path d="M143.44,781.06 L145.53,780.77 L147.62,780.48 L149.70,780.19 L151.79,779.89 L153.88,779.59 L155.97,779.29 L158.06,778.98 L160.15,778.68 L162.23,778.36 L164.32,778.05 L166.41,777.74 L168.50,777.42 L170.59,777.09 L172.67,776.77 L174.76,776.44 L176.85,776.11 L178.94,775.78 L181.03,775.44 L183.12,775.10 L185.20,774.75 L187.29,774.41 L189.38,774.06 L191.47,773.70 L193.56,773.35 L195.64,772.99 L197.73,772.62 L199.82,772.26 L201.91,771.89 L204.00,771.51 L206.09,771.14 L208.17,770.76 L210.26,770.37 L212.35,769.99 L214.44,769.59 L216.53,769.20 L218.62,768.80 L220.70,768.40 L222.79,767.99 L224.88,767.58 L226.97,767.17 L229.06,766.75 L231.14,766.33 L233.23,765.90 L235.32,765.48 L237.41,765.04 L239.50,764.60 L241.59,764.16 L243.67,763.72 L245.76,763.27 L247.85,762.81 L249.94,762.36 L252.03,761.89 L254.11,761.43 L256.20,760.96 L258.29,760.48 L260.38,760.00 L262.47,759.52 L264.56,759.03 L266.64,758.54 L268.73,758.04 L270.82,757.54 L272.91,757.03 L275.00,756.52 L277.08,756.00 L279.17,755.48 L281.26,754.96 L283.35,754.43 L285.44,753.89 L287.53,753.35 L289.61,752.81 L291.70,752.26 L293.79,751.70 L295.88,751.14 L297.97,750.58 L300.06,750.01 L302.14,749.43 L304.23,748.86 L306.32,748.27 L308.41,747.68 L310.50,747.08 L312.58,746.48 L314.67,745.88 L316.76,745.27 L318.85,744.65 L320.94,744.03 L323.03,743.40 L325.11,742.77 L327.20,742.13 L329.29,741.49 L331.38,740.84 L333.47,740.18 L335.55,739.52 L337.64,738.86 L339.73,738.19 L341.82,737.51 L343.91,736.83 L346.00,736.14 L348.08,735.45 L350.17,734.75 L352.26,734.04 L354.35,733.33 L356.44,732.62 L358.52,731.90 L360.61,731.17 L362.70,730.44 L364.79,729.70 L366.88,728.95 L368.97,728.20 L371.05,727.45 L373.14,726.69 L375.23,725.92 L377.32,725.15 L379.41,724.37 L381.49,723.58 L383.58,722.79 L385.67,722.00 L387.76,721.20 L389.85,720.39 L391.94,719.58 L394.02,718.76 L396.11,717.94 L398.20,717.11 L400.29,716.28 L402.38,715.44 L404.46,714.59 L406.55,713.74 L408.64,712.89 L410.73,712.03 L412.82,711.17 L414.91,710.30 L416.99,709.42 L419.08,708.54 L421.17,707.66 L423.26,706.77 L425.35,705.88 L427.44,704.98 L429.52,704.08 L431.61,703.18 L433.70,702.27 L435.79,701.35 L437.88,700.43 L439.96,699.51 L442.05,698.59 L444.14,697.66 L446.23,696.73 L448.32,695.80 L450.41,694.86 L452.49,693.92 L454.58,692.98 L456.67,692.03 L458.76,691.09 L460.85,690.14 L462.93,689.19 L465.02,688.24 L467.11,687.28 L469.20,686.33 L471.29,685.37 L473.38,684.42 L475.46,683.46 L477.55,682.51 L479.64,681.55 L481.73,680.60 L483.82,679.65 L485.90,678.70 L487.99,677.75 L490.08,676.80 L492.17,675.85 L494.26,674.91 L496.35,673.97 L498.43,673.04 L500.52,672.10 L502.61,671.18 L504.70,670.25 L506.79,669.34 L508.88,668.42 L510.96,667.52 L513.05,666.62 L515.14,665.73 L517.23,664.85 L519.32,663.97 L521.40,663.10 L523.49,662.25 L525.58,661.40 L527.67,660.56 L529.76,659.74 L531.85,658.92 L533.93,658.12 L536.02,657.33 L538.11,656.56 L540.20,655.80 L542.29,655.05 L544.37,654.32 L546.46,653.61 L548.55,652.91 L550.64,652.24 L552.73,651.58 L554.82,650.94 L556.90,650.32 L558.99,649.72 L561.08,649.14 L563.17,648.58 L565.26,648.05 L567.34,647.55 L569.43,647.06 L571.52,646.61 L573.61,646.18 L575.70,645.78 L577.79,645.41 L579.87,645.07 L581.96,644.75 L584.05,644.47 L586.14,644.23 L588.23,644.01 L590.31,643.83 L592.40,643.69 L594.49,643.58 L596.58,643.51 L598.67,643.47 L600.76,643.48 L602.84,643.53 L604.93,643.61 L607.02,643.74 L609.11,643.91 L611.20,644.13 L613.28,644.39 L615.37,644.70 L617.46,645.05 L619.55,645.45 L621.64,645.90 L623.73,646.40 L625.81,646.95 L627.90,647.55 L629.99,648.21 L632.08,648.91 L634.17,649.67 L636.26,650.49 L638.34,651.36 L640.43,652.29 L642.52,653.27 L644.61,654.31 L646.70,655.41 L648.78,656.57 L650.87,657.78 L652.96,659.06 L655.05,660.40 L657.14,661.80 L659.23,663.26 L661.31,664.78 L663.40,666.36 L665.49,668.01 L667.58,669.72 L669.67,671.49 L671.75,673.32 L673.84,675.22 L675.93,677.18 L678.02,679.20 L680.11,681.29 L682.20,683.44 L684.28,685.65 L686.37,687.92 L688.46,690.26 L690.55,692.66 L692.64,695.12 L694.72,697.63 L696.81,700.21 L698.90,702.85 L700.99,705.55 L703.08,708.31 L705.17,711.12 L707.25,713.99 L709.34,716.91 L711.43,719.89 L713.52,722.92 L715.61,726.00 L717.69,729.13 L719.78,732.31 L721.87,735.54 L723.96,738.82 L726.05,742.14 L728.14,745.50 L730.22,748.91 L732.31,752.35 L734.40,755.83 L736.49,759.35 L738.58,762.91 L740.67,766.49 L742.75,770.11 L744.84,773.75 L746.93,777.43 L749.02,781.12 L751.11,784.84 L753.19,788.58 L755.28,792.34 L757.37,796.11 L759.46,799.89 L761.55,803.69 L763.64,807.50 L765.72,811.31 L767.81,815.13 L769.90,818.95 L771.99,822.77 L774.08,826.59 L776.16,830.40 L778.25,834.21 L780.34,838.01 L782.43,841.79 L784.52,845.56 L786.61,849.32 L788.69,853.06 L790.78,856.78 L792.87,860.47 L794.96,864.15 L797.05,867.79 L799.13,871.41 L801.22,874.99 L803.31,878.55 L805.40,882.07 L807.49,885.55 L809.58,888.99 L811.66,892.40 L813.75,895.76 L815.84,899.08 L817.93,902.36 L820.02,905.59 L822.11,908.77 L824.19,911.90 L826.28,914.98 L828.37,918.01 L830.46,920.99 L832.55,923.91 L834.63,926.78 L836.72,929.59 L838.81,932.35 L840.90,935.05 L842.99,937.69 L845.08,940.27 L847.16,942.78 L849.25,945.24 L851.34,947.64 L853.43,949.98 L855.52,952.25 L857.60,954.46 L859.69,956.61 L861.78,958.70 L863.87,960.72 L865.96,962.68 L868.05,964.58 L870.13,966.41 L872.22,968.18 L874.31,969.89 L876.40,971.54 L878.49,973.12 L880.57,974.64 L882.66,976.10 L884.75,977.50 L886.84,978.84 L888.93,980.12 L891.02,981.33 L893.10,982.49 L895.19,983.59 L897.28,984.63 L899.37,985.61 L901.46,986.54 L903.54,987.41 L905.63,988.23 L907.72,988.99 L909.81,989.69 L911.90,990.35 L913.99,990.95 L916.07,991.50 L918.16,992.00 L920.25,992.45 L922.34,992.85 L924.43,993.20 L926.51,993.51 L928.60,993.77 L930.69,993.99 L932.78,994.16 L934.87,994.29 L936.96,994.37 L939.04,994.42 L941.13,994.43 L943.22,994.39 L945.31,994.32 L947.40,994.21 L949.49,994.07 L951.57,993.89 L953.66,993.67 L955.75,993.43 L957.84,993.15 L959.93,992.83 L962.01,992.49 L964.10,992.12 L966.19,991.72 L968.28,991.29 L970.37,990.84 L972.46,990.35 L974.54,989.85 L976.63,989.32 L978.72,988.76 L980.81,988.18 L982.90,987.58 L984.98,986.96 L987.07,986.32 L989.16,985.66 L991.25,984.99 L993.34,984.29 L995.43,983.58 L997.51,982.85 L999.60,982.10 L1001.69,981.34 L1003.78,980.57 L1005.87,979.78 L1007.95,978.98 L1010.04,978.16 L1012.13,977.34 L1014.22,976.50 L1016.31,975.65 L1018.40,974.80 L1020.48,973.93 L1022.57,973.05 L1024.66,972.17 L1026.75,971.28 L1028.84,970.38 L1030.92,969.48 L1033.01,968.56 L1035.10,967.65 L1037.19,966.72 L1039.28,965.80 L1041.37,964.86 L1043.45,963.93 L1045.54,962.99 L1047.63,962.05 L1049.72,961.10 L1051.81,960.15 L1053.90,959.20 L1055.98,958.25 L1058.07,957.30 L1060.16,956.35 L1062.25,955.39 L1064.34,954.44 L1066.42,953.48 L1068.51,952.53 L1070.60,951.57 L1072.69,950.62 L1074.78,949.66 L1076.87,948.71 L1078.95,947.76 L1081.04,946.81 L1083.13,945.87 L1085.22,944.92 L1087.31,943.98 L1089.39,943.04 L1091.48,942.10 L1093.57,941.17 L1095.66,940.24 L1097.75,939.31 L1099.84,938.39 L1101.92,937.47 L1104.01,936.55 L1106.10,935.63 L1108.19,934.72 L1110.28,933.82 L1112.36,932.92 L1114.45,932.02 L1116.54,931.13 L1118.63,930.24 L1120.72,929.36 L1122.81,928.48 L1124.89,927.60 L1126.98,926.73 L1129.07,925.87 L1131.16,925.01 L1133.25,924.16 L1135.34,923.31 L1137.42,922.46 L1139.51,921.62 L1141.60,920.79 L1143.69,919.96 L1145.78,919.14 L1147.86,918.32 L1149.95,917.51 L1152.04,916.70 L1154.13,915.90 L1156.22,915.11 L1158.31,914.32 L1160.39,913.53 L1162.48,912.75 L1164.57,911.98 L1166.66,911.21 L1168.75,910.45 L1170.83,909.70 L1172.92,908.95 L1175.01,908.20 L1177.10,907.46 L1179.19,906.73 L1181.28,906.00 L1183.36,905.28 L1185.45,904.57 L1187.54,903.86 L1189.63,903.15 L1191.72,902.45 L1193.80,901.76 L1195.89,901.07 L1197.98,900.39 L1200.07,899.71 L1202.16,899.04 L1204.25,898.38 L1206.33,897.72 L1208.42,897.06 L1210.51,896.41 L1212.60,895.77 L1214.69,895.13 L1216.77,894.50 L1218.86,893.87 L1220.95,893.25 L1223.04,892.63 L1225.13,892.02 L1227.22,891.42 L1229.30,890.82 L1231.39,890.22 L1233.48,889.63 L1235.57,889.04 L1237.66,888.47 L1239.74,887.89 L1241.83,887.32 L1243.92,886.76 L1246.01,886.20 L1248.10,885.64 L1250.19,885.09 L1252.27,884.55 L1254.36,884.01 L1256.45,883.47 L1258.54,882.94 L1260.63,882.42 L1262.72,881.90 L1264.80,881.38 L1266.89,880.87 L1268.98,880.36 L1271.07,879.86 L1273.16,879.36 L1275.24,878.87 L1277.33,878.38 L1279.42,877.90 L1281.51,877.42 L1283.60,876.94 L1285.69,876.47 L1287.77,876.01 L1289.86,875.54 L1291.95,875.09 L1294.04,874.63 L1296.13,874.18 L1298.21,873.74 L1300.30,873.30 L1302.39,872.86 L1304.48,872.42 L1306.57,872.00 L1308.66,871.57 L1310.74,871.15 L1312.83,870.73 L1314.92,870.32 L1317.01,869.91 L1319.10,869.50 L1321.18,869.10 L1323.27,868.70 L1325.36,868.31 L1327.45,867.91 L1329.54,867.53 L1331.63,867.14 L1333.71,866.76 L1335.80,866.39 L1337.89,866.01 L1339.98,865.64 L1342.07,865.28 L1344.15,864.91 L1346.24,864.55 L1348.33,864.20 L1350.42,863.84 L1352.51,863.49 L1354.60,863.15 L1356.68,862.80 L1358.77,862.46 L1360.86,862.12 L1362.95,861.79 L1365.04,861.46 L1367.13,861.13 L1369.21,860.81 L1371.30,860.48 L1373.39,860.16 L1375.48,859.85 L1377.57,859.54 L1379.65,859.22 L1381.74,858.92 L1383.83,858.61 L1385.92,858.31 L1388.01,858.01 L1390.10,857.71 L1392.18,857.42 L1394.27,857.13 L1396.36,856.84" fill="none" stroke="#8FB032" stroke-width="6.3" stroke-linejoin="round" stroke-linecap="square"/>
<path d="M117.05,818.95H1422.4M769.9,2.46V1046.43" stroke="#000" stroke-width="1.9" fill="none"/>
<path d="M143.44,680.01 L145.53,679.25 L147.62,678.49 L149.70,677.71 L151.79,676.94 L153.88,676.15 L155.97,675.36 L158.06,674.57 L160.15,673.76 L162.23,672.95 L164.32,672.14 L166.41,671.32 L168.50,670.49 L170.59,669.66 L172.67,668.82 L174.76,667.97 L176.85,667.12 L178.94,666.26 L181.03,665.39 L183.12,664.52 L185.20,663.63 L187.29,662.75 L189.38,661.85 L191.47,660.95 L193.56,660.04 L195.64,659.13 L197.73,658.20 L199.82,657.27 L201.91,656.34 L204.00,655.39 L206.09,654.44 L208.17,653.48 L210.26,652.51 L212.35,651.54 L214.44,650.55 L216.53,649.56 L218.62,648.56 L220.70,647.56 L222.79,646.54 L224.88,645.52 L226.97,644.49 L229.06,643.45 L231.14,642.40 L233.23,641.34 L235.32,640.28 L237.41,639.20 L239.50,638.12 L241.59,637.03 L243.67,635.93 L245.76,634.82 L247.85,633.70 L249.94,632.57 L252.03,631.44 L254.11,630.29 L256.20,629.14 L258.29,627.97 L260.38,626.80 L262.47,625.61 L264.56,624.42 L266.64,623.22 L268.73,622.00 L270.82,620.78 L272.91,619.55 L275.00,618.30 L277.08,617.05 L279.17,615.79 L281.26,614.51 L283.35,613.23 L285.44,611.93 L287.53,610.62 L289.61,609.31 L291.70,607.98 L293.79,606.64 L295.88,605.29 L297.97,603.93 L300.06,602.55 L302.14,601.17 L304.23,599.77 L306.32,598.37 L308.41,596.95 L310.50,595.51 L312.58,594.07 L314.67,592.62 L316.76,591.15 L318.85,589.67 L320.94,588.18 L323.03,586.67 L325.11,585.15 L327.20,583.62 L329.29,582.08 L331.38,580.53 L333.47,578.96 L335.55,577.38 L337.64,575.78 L339.73,574.17 L341.82,572.55 L343.91,570.91 L346.00,569.26 L348.08,567.60 L350.17,565.92 L352.26,564.23 L354.35,562.53 L356.44,560.81 L358.52,559.07 L360.61,557.33 L362.70,555.56 L364.79,553.79 L366.88,551.99 L368.97,550.19 L371.05,548.36 L373.14,546.53 L375.23,544.67 L377.32,542.80 L379.41,540.92 L381.49,539.02 L383.58,537.11 L385.67,535.17 L387.76,533.23 L389.85,531.26 L391.94,529.29 L394.02,527.29 L396.11,525.28 L398.20,523.25 L400.29,521.20 L402.38,519.14 L404.46,517.06 L406.55,514.97 L408.64,512.86 L410.73,510.73 L412.82,508.58 L414.91,506.41 L416.99,504.23 L419.08,502.03 L421.17,499.82 L423.26,497.58 L425.35,495.33 L427.44,493.06 L429.52,490.77 L431.61,488.46 L433.70,486.14 L435.79,483.80 L437.88,481.44 L439.96,479.06 L442.05,476.66 L444.14,474.24 L446.23,471.81 L448.32,469.35 L450.41,466.88 L452.49,464.39 L454.58,461.88 L456.67,459.35 L458.76,456.80 L460.85,454.24 L462.93,451.65 L465.02,449.04 L467.11,446.42 L469.20,443.78 L471.29,441.12 L473.38,438.44 L475.46,435.73 L477.55,433.02 L479.64,430.28 L481.73,427.52 L483.82,424.74 L485.90,421.95 L487.99,419.13 L490.08,416.30 L492.17,413.45 L494.26,410.58 L496.35,407.69 L498.43,404.78 L500.52,401.85 L502.61,398.90 L504.70,395.94 L506.79,392.95 L508.88,389.95 L510.96,386.93 L513.05,383.90 L515.14,380.84 L517.23,377.77 L519.32,374.68 L521.40,371.57 L523.49,368.44 L525.58,365.30 L527.67,362.14 L529.76,358.97 L531.85,355.77 L533.93,352.56 L536.02,349.34 L538.11,346.10 L540.20,342.84 L542.29,339.57 L544.37,336.29 L546.46,332.99 L548.55,329.67 L550.64,326.35 L552.73,323.01 L554.82,319.65 L556.90,316.29 L558.99,312.91 L561.08,309.52 L563.17,306.11 L565.26,302.70 L567.34,299.28 L569.43,295.85 L571.52,292.40 L573.61,288.95 L575.70,285.49 L577.79,282.03 L579.87,278.55 L581.96,275.07 L584.05,271.58 L586.14,268.09 L588.23,264.60 L590.31,261.09 L592.40,257.59 L594.49,254.08 L596.58,250.58 L598.67,247.07 L600.76,243.56 L602.84,240.05 L604.93,236.54 L607.02,233.04 L609.11,229.53 L611.20,226.03 L613.28,222.54 L615.37,219.05 L617.46,215.57 L619.55,212.10 L621.64,208.63 L623.73,205.17 L625.81,201.73 L627.90,198.30 L629.99,194.87 L632.08,191.47 L634.17,188.07 L636.26,184.70 L638.34,181.33 L640.43,177.99 L642.52,174.67 L644.61,171.37 L646.70,168.08 L648.78,164.82 L650.87,161.59 L652.96,158.38 L655.05,155.19 L657.14,152.04 L659.23,148.91 L661.31,145.81 L663.40,142.74 L665.49,139.71 L667.58,136.70 L669.67,133.74 L671.75,130.81 L673.84,127.91 L675.93,125.06 L678.02,122.24 L680.11,119.47 L682.20,116.74 L684.28,114.05 L686.37,111.40 L688.46,108.81 L690.55,106.26 L692.64,103.76 L694.72,101.30 L696.81,98.90 L698.90,96.55 L700.99,94.26 L703.08,92.02 L705.17,89.83 L707.25,87.71 L709.34,85.64 L711.43,83.62 L713.52,81.67 L715.61,79.78 L717.69,77.96 L719.78,76.19 L721.87,74.49 L723.96,72.86 L726.05,71.29 L728.14,69.78 L730.22,68.35 L732.31,66.98 L734.40,65.68 L736.49,64.46 L738.58,63.30 L740.67,62.22 L742.75,61.20 L744.84,60.26 L746.93,59.40 L749.02,58.60 L751.11,57.88 L753.19,57.24 L755.28,56.67 L757.37,56.17 L759.46,55.75 L761.55,55.41 L763.64,55.14 L765.72,54.95 L767.81,54.84 L769.90,54.80 L771.99,54.84 L774.08,54.95 L776.16,55.14 L778.25,55.41 L780.34,55.75 L782.43,56.17 L784.52,56.67 L786.61,57.24 L788.69,57.88 L790.78,58.60 L792.87,59.40 L794.96,60.26 L797.05,61.20 L799.13,62.22 L801.22,63.30 L803.31,64.46 L805.40,65.68 L807.49,66.98 L809.58,68.35 L811.66,69.78 L813.75,71.29 L815.84,72.86 L817.93,74.49 L820.02,76.19 L822.11,77.96 L824.19,79.78 L826.28,81.67 L828.37,83.62 L830.46,85.64 L832.55,87.71 L834.63,89.83 L836.72,92.02 L838.81,94.26 L840.90,96.55 L842.99,98.90 L845.08,101.30 L847.16,103.76 L849.25,106.26 L851.34,108.81 L853.43,111.40 L855.52,114.05 L857.60,116.74 L859.69,119.47 L861.78,122.24 L863.87,125.06 L865.96,127.91 L868.05,130.81 L870.13,133.74 L872.22,136.70 L874.31,139.71 L876.40,142.74 L878.49,145.81 L880.57,148.91 L882.66,152.04 L884.75,155.19 L886.84,158.38 L888.93,161.59 L891.02,164.82 L893.10,168.08 L895.19,171.37 L897.28,174.67 L899.37,177.99 L901.46,181.33 L903.54,184.70 L905.63,188.07 L907.72,191.47 L909.81,194.87 L911.90,198.30 L913.99,201.73 L916.07,205.17 L918.16,208.63 L920.25,212.10 L922.34,215.57 L924.43,219.05 L926.51,222.54 L928.60,226.03 L930.69,229.53 L932.78,233.04 L934.87,236.54 L936.96,240.05 L939.04,243.56 L941.13,247.07 L943.22,250.58 L945.31,254.08 L947.40,257.59 L949.49,261.09 L951.57,264.60 L953.66,268.09 L955.75,271.58 L957.84,275.07 L959.93,278.55 L962.01,282.03 L964.10,285.49 L966.19,288.95 L968.28,292.40 L970.37,295.85 L972.46,299.28 L974.54,302.70 L976.63,306.11 L978.72,309.52 L980.81,312.91 L982.90,316.29 L984.98,319.65 L987.07,323.01 L989.16,326.35 L991.25,329.67 L993.34,332.99 L995.43,336.29 L997.51,339.57 L999.60,342.84 L1001.69,346.10 L1003.78,349.34 L1005.87,352.56 L1007.95,355.77 L1010.04,358.97 L1012.13,362.14 L1014.22,365.30 L1016.31,368.44 L1018.40,371.57 L1020.48,374.68 L1022.57,377.77 L1024.66,380.84 L1026.75,383.90 L1028.84,386.93 L1030.92,389.95 L1033.01,392.95 L1035.10,395.94 L1037.19,398.90 L1039.28,401.85 L1041.37,404.78 L1043.45,407.69 L1045.54,410.58 L1047.63,413.45 L1049.72,416.30 L1051.81,419.13 L1053.90,421.95 L1055.98,424.74 L1058.07,427.52 L1060.16,430.28 L1062.25,433.02 L1064.34,435.73 L1066.42,438.44 L1068.51,441.12 L1070.60,443.78 L1072.69,446.42 L1074.78,449.04 L1076.87,451.65 L1078.95,454.24 L1081.04,456.80 L1083.13,459.35 L1085.22,461.88 L1087.31,464.39 L1089.39,466.88 L1091.48,469.35 L1093.57,471.81 L1095.66,474.24 L1097.75,476.66 L1099.84,479.06 L1101.92,481.44 L1104.01,483.80 L1106.10,486.14 L1108.19,488.46 L1110.28,490.77 L1112.36,493.06 L1114.45,495.33 L1116.54,497.58 L1118.63,499.82 L1120.72,502.03 L1122.81,504.23 L1124.89,506.41 L1126.98,508.58 L1129.07,510.73 L1131.16,512.86 L1133.25,514.97 L1135.34,517.06 L1137.42,519.14 L1139.51,521.20 L1141.60,523.25 L1143.69,525.28 L1145.78,527.29 L1147.86,529.29 L1149.95,531.26 L1152.04,533.23 L1154.13,535.17 L1156.22,537.11 L1158.31,539.02 L1160.39,540.92 L1162.48,542.80 L1164.57,544.67 L1166.66,546.53 L1168.75,548.36 L1170.83,550.19 L1172.92,551.99 L1175.01,553.79 L1177.10,555.56 L1179.19,557.33 L1181.28,559.07 L1183.36,560.81 L1185.45,562.53 L1187.54,564.23 L1189.63,565.92 L1191.72,567.60 L1193.80,569.26 L1195.89,570.91 L1197.98,572.55 L1200.07,574.17 L1202.16,575.78 L1204.25,577.38 L1206.33,578.96 L1208.42,580.53 L1210.51,582.08 L1212.60,583.62 L1214.69,585.15 L1216.77,586.67 L1218.86,588.18 L1220.95,589.67 L1223.04,591.15 L1225.13,592.62 L1227.22,594.07 L1229.30,595.51 L1231.39,596.95 L1233.48,598.37 L1235.57,599.77 L1237.66,601.17 L1239.74,602.55 L1241.83,603.93 L1243.92,605.29 L1246.01,606.64 L1248.10,607.98 L1250.19,609.31 L1252.27,610.62 L1254.36,611.93 L1256.45,613.23 L1258.54,614.51 L1260.63,615.79 L1262.72,617.05 L1264.80,618.30 L1266.89,619.55 L1268.98,620.78 L1271.07,622.00 L1273.16,623.22 L1275.24,624.42 L1277.33,625.61 L1279.42,626.80 L1281.51,627.97 L1283.60,629.14 L1285.69,630.29 L1287.77,631.44 L1289.86,632.57 L1291.95,633.70 L1294.04,634.82 L1296.13,635.93 L1298.21,637.03 L1300.30,638.12 L1302.39,639.20 L1304.48,640.28 L1306.57,641.34 L1308.66,642.40 L1310.74,643.45 L1312.83,644.49 L1314.92,645.52 L1317.01,646.54 L1319.10,647.56 L1321.18,648.56 L1323.27,649.56 L1325.36,650.55 L1327.45,651.54 L1329.54,652.51 L1331.63,653.48 L1333.71,654.44 L1335.80,655.39 L1337.89,656.34 L1339.98,657.27 L1342.07,658.20 L1344.15,659.13 L1346.24,660.04 L1348.33,660.95 L1350.42,661.85 L1352.51,662.75 L1354.60,663.63 L1356.68,664.52 L1358.77,665.39 L1360.86,666.26 L1362.95,667.12 L1365.04,667.97 L1367.13,668.82 L1369.21,669.66 L1371.30,670.49 L1373.39,671.32 L1375.48,672.14 L1377.57,672.95 L1379.65,673.76 L1381.74,674.57 L1383.83,675.36 L1385.92,676.15 L1388.01,676.94 L1390.10,677.71 L1392.18,678.49 L1394.27,679.25 L1396.36,680.01" fill="none" stroke="#E19C24" stroke-width="6.3" stroke-linejoin="round" stroke-linecap="square"/>
<path d="M143.24,1046.43v-15.7M143.24,2.46v15.7M185.00,1046.43v-10.6M185.00,2.46v10.6M226.77,1046.43v-10.6M226.77,2.46v10.6M268.53,1046.43v-10.6M268.53,2.46v10.6M310.30,1046.43v-10.6M310.30,2.46v10.6M352.06,1046.43v-15.7M352.06,2.46v15.7M393.82,1046.43v-10.6M393.82,2.46v10.6M435.59,1046.43v-10.6M435.59,2.46v10.6M477.35,1046.43v-10.6M477.35,2.46v10.6M519.12,1046.43v-10.6M519.12,2.46v10.6M560.88,1046.43v-15.7M560.88,2.46v15.7M602.64,1046.43v-10.6M602.64,2.46v10.6M644.41,1046.43v-10.6M644.41,2.46v10.6M686.17,1046.43v-10.6M686.17,2.46v10.6M727.94,1046.43v-10.6M727.94,2.46v10.6M769.70,1046.43v-15.7M769.70,2.46v15.7M811.46,1046.43v-10.6M811.46,2.46v10.6M853.23,1046.43v-10.6M853.23,2.46v10.6M894.99,1046.43v-10.6M894.99,2.46v10.6M936.76,1046.43v-10.6M936.76,2.46v10.6M978.52,1046.43v-15.7M978.52,2.46v15.7M1020.28,1046.43v-10.6M1020.28,2.46v10.6M1062.05,1046.43v-10.6M1062.05,2.46v10.6M1103.81,1046.43v-10.6M1103.81,2.46v10.6M1145.58,1046.43v-10.6M1145.58,2.46v10.6M1187.34,1046.43v-15.7M1187.34,2.46v15.7M1229.10,1046.43v-10.6M1229.10,2.46v10.6M1270.87,1046.43v-10.6M1270.87,2.46v10.6M1312.63,1046.43v-10.6M1312.63,2.46v10.6M1354.40,1046.43v-10.6M1354.40,2.46v10.6M1396.16,1046.43v-15.7M1396.16,2.46v15.7M117.05,1032.74h10.6M1422.4,1032.74h-10.6M117.05,1002.18h10.6M1422.4,1002.18h-10.6M117.05,971.61h15.7M1422.4,971.61h-15.7M117.05,941.04h10.6M1422.4,941.04h-10.6M117.05,910.48h10.6M1422.4,910.48h-10.6M117.05,879.91h10.6M1422.4,879.91h-10.6M117.05,849.35h10.6M1422.4,849.35h-10.6M117.05,818.78h15.7M1422.4,818.78h-15.7M117.05,788.21h10.6M1422.4,788.21h-10.6M117.05,757.65h10.6M1422.4,757.65h-10.6M117.05,727.08h10.6M1422.4,727.08h-10.6M117.05,696.52h10.6M1422.4,696.52h-10.6M117.05,665.95h15.7M1422.4,665.95h-15.7M117.05,635.38h10.6M1422.4,635.38h-10.6M117.05,604.82h10.6M1422.4,604.82h-10.6M117.05,574.25h10.6M1422.4,574.25h-10.6M117.05,543.69h10.6M1422.4,543.69h-10.6M117.05,513.12h15.7M1422.4,513.12h-15.7M117.05,482.55h10.6M1422.4,482.55h-10.6M117.05,451.99h10.6M1422.4,451.99h-10.6M117.05,421.42h10.6M1422.4,421.42h-10.6M117.05,390.86h10.6M1422.4,390.86h-10.6M117.05,360.29h15.7M1422.4,360.29h-15.7M117.05,329.72h10.6M1422.4,329.72h-10.6M117.05,299.16h10.6M1422.4,299.16h-10.6M117.05,268.59h10.6M1422.4,268.59h-10.6M117.05,238.03h10.6M1422.4,238.03h-10.6M117.05,207.46h15.7M1422.4,207.46h-15.7M117.05,176.89h10.6M1422.4,176.89h-10.6M117.05,146.33h10.6M1422.4,146.33h-10.6M117.05,115.76h10.6M1422.4,115.76h-10.6M117.05,85.20h10.6M1422.4,85.20h-10.6M117.05,54.63h15.7M1422.4,54.63h-15.7M117.05,24.06h10.6M1422.4,24.06h-10.6" stroke="#000" stroke-width="1.35" fill="none"/>
<rect x="117.05" y="2.46" width="1305.35" height="1043.97" fill="none" stroke="#000" stroke-width="1.35"/>
<g font-size="35" stroke="#000" stroke-width="0.5"><text transform="translate(137.74,1084.80) rotate(0.03) scale(0.985,1.02)" text-anchor="middle">-3</text><text transform="translate(346.56,1084.80) rotate(0.03) scale(0.985,1.02)" text-anchor="middle">-2</text><text transform="translate(556.68,1084.80) rotate(0.03) scale(0.985,1.02)" text-anchor="middle">-1</text><text transform="translate(769.50,1084.80) rotate(0.03) scale(0.985,1.02)" text-anchor="middle">0</text><text transform="translate(979.62,1084.80) rotate(0.03) scale(0.985,1.02)" text-anchor="middle">1</text><text transform="translate(1187.14,1084.80) rotate(0.03) scale(0.985,1.02)" text-anchor="middle">2</text><text transform="translate(1395.96,1084.80) rotate(0.03) scale(0.985,1.02)" text-anchor="middle">3</text><text transform="translate(110.80,982.51) rotate(0.03) scale(0.985,1.02)" text-anchor="end">-0.1</text><text transform="translate(105.30,829.68) rotate(0.03) scale(0.985,1.02)" text-anchor="end">0.0</text><text transform="translate(110.80,676.85) rotate(0.03) scale(0.985,1.02)" text-anchor="end">0.1</text><text transform="translate(105.30,524.02) rotate(0.03) scale(0.985,1.02)" text-anchor="end">0.2</text><text transform="translate(105.30,371.19) rotate(0.03) scale(0.985,1.02)" text-anchor="end">0.3</text><text transform="translate(105.30,218.36) rotate(0.03) scale(0.985,1.02)" text-anchor="end">0.4</text><text transform="translate(105.30,65.53) rotate(0.03) scale(0.985,1.02)" text-anchor="end">0.5</text></g>
<path d="M552.34,1080.50h8.90v6h-8.90zM564.99,1080.50h8v6h-8zM969.54,1080.50h8.90v6h-8.90zM982.19,1080.50h8v6h-8zM91.13,978.21h8.90v6h-8.90zM103.78,978.21h8v6h-8zM91.13,672.55h8.90v6h-8.90zM103.78,672.55h8v6h-8z" fill="#fff"/>
<g stroke="#231F20" stroke-width="3.2" stroke-linecap="round" fill="none">
<path d="M402.1,171.7H598.5M402.1,347.5H598.5M402.6,643H599.5"/>
<path d="M889.5,155L1015,92.3M996.5,248L1075.5,209" stroke-width="2.8"/>
</g>
<path d="M412.2,185.0V334.5" stroke="#231F20" stroke-width="2.8" fill="none"/><path d="M412.2,172.5l7.0,13.5h-14.0zM412.2,347l7.0,-13.5h-14.0z" fill="#231F20"/>
<path d="M414.3,656.2V805.9" stroke="#231F20" stroke-width="2.8" fill="none"/><path d="M414.3,643.7l7.0,13.5h-14.0zM414.3,818.4l7.0,-13.5h-14.0z" fill="#231F20"/>
<g font-size="42.75" stroke="#000" stroke-width="0.4">
<text transform="translate(1376.9,99.6) rotate(0.05)" text-anchor="end">without modulation</text>
<text transform="translate(1376.9,218.0) rotate(0.05)" text-anchor="end">with modulation</text>
<text transform="translate(1374.2,964.7) rotate(0.05)" text-anchor="end">LIA output</text>
<text transform="translate(32.2,524.2) rotate(-90)" text-anchor="middle">signal amplitude (arb. units)</text>
</g>
<g aria-label="x = B_x / B_w"><text transform="translate(669.52,1138.65) scale(0.4365,0.3965)" font-size="100" class="m" stroke="#000" stroke-width="0.72">x</text><text transform="translate(702.75,1132.55) scale(0.4840,0.1904)" font-size="100" class="r" stroke="#000" stroke-width="2.08">=</text><text transform="translate(751.05,1138.33) scale(0.4681,0.4027)" font-size="100" class="m" stroke="#000" stroke-width="0.69">B</text><text transform="translate(780.57,1144.55) scale(0.3195,0.2876)" font-size="100" class="m" stroke="#000" stroke-width="0.99">x</text><text transform="translate(801.50,1149.37) scale(0.6950,0.7294)" font-size="100" class="m" stroke="#fff" stroke-width="1.12">/</text><text transform="translate(821.20,1138.33) scale(0.4640,0.4088)" font-size="100" class="m" stroke="#000" stroke-width="0.69">B</text><text transform="translate(850.25,1144.27) scale(0.2984,0.2814)" font-size="100" class="m" stroke="#000" stroke-width="1.03">w</text></g>
</svg>
</body></html>
